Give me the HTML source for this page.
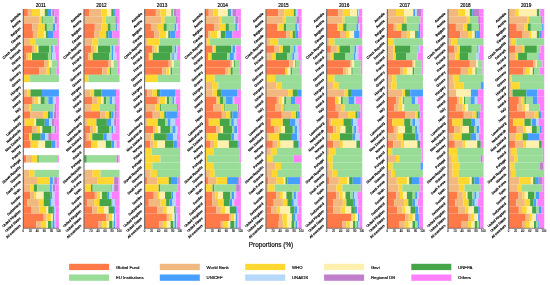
<!DOCTYPE html>
<html><head><meta charset="utf-8"><title>Proportions</title>
<style>html,body{margin:0;padding:0;background:#fff}svg{display:block}text{font-family:"Liberation Sans",sans-serif;fill:#000;stroke:#000;stroke-width:.18px}.yl{font-size:3.35px;text-anchor:end}.xt{font-size:2.8px;text-anchor:middle;stroke-width:.08px}.ti{font-size:4.7px;text-anchor:middle;stroke-width:.16px}.lg{font-size:4.3px;stroke-width:.15px}.xl{font-size:6.4px;text-anchor:middle;stroke-width:.15px}</style></head><body>
<svg width="550" height="285" viewBox="0 0 550 285">
<rect width="550" height="285" fill="#fff"/>
<g>
<text class="ti" x="40.75" y="6.5">2011</text>
<rect x="23.6" y="9" width="4.24" height="7.31" fill="#FF7A48"/><rect x="27.84" y="9" width="4.09" height="7.31" fill="#F1B87F"/><rect x="31.93" y="9" width="8.15" height="7.31" fill="#FFD731"/><rect x="40.09" y="9" width="4.69" height="7.31" fill="#FFF0AE"/><rect x="44.78" y="9" width="3.18" height="7.31" fill="#45A548"/><rect x="47.96" y="9" width="3.53" height="7.31" fill="#469FFF"/><rect x="51.49" y="9" width="0.71" height="7.31" fill="#B5D8F8"/><rect x="52.19" y="9" width="2.33" height="7.31" fill="#BF7FCB"/><rect x="54.52" y="9" width="4.38" height="7.31" fill="#FF80FF"/>
<text class="yl" transform="translate(20.2 13.15) rotate(-43)" y="1.05">Australia</text>
<rect x="23.6" y="16.31" width="15.53" height="7.31" fill="#F1B87F"/><rect x="39.13" y="16.31" width="2.68" height="7.31" fill="#FFD731"/><rect x="41.81" y="16.31" width="1.02" height="7.31" fill="#45A548"/><rect x="42.84" y="16.31" width="10.77" height="7.31" fill="#98DC98"/><rect x="53.6" y="16.31" width="1.06" height="7.31" fill="#B5D8F8"/><rect x="54.66" y="16.31" width="2.47" height="7.31" fill="#BF7FCB"/><rect x="57.13" y="16.31" width="1.76" height="7.31" fill="#FF80FF"/>
<text class="yl" transform="translate(20.2 20.46) rotate(-43)" y="1.05">Austria</text>
<rect x="23.6" y="23.62" width="8.82" height="7.31" fill="#FF7A48"/><rect x="32.42" y="23.62" width="5.65" height="7.31" fill="#F1B87F"/><rect x="38.07" y="23.62" width="6.71" height="7.31" fill="#FFD731"/><rect x="44.78" y="23.62" width="2.12" height="7.31" fill="#45A548"/><rect x="46.9" y="23.62" width="6" height="7.31" fill="#98DC98"/><rect x="52.9" y="23.62" width="2.12" height="7.31" fill="#469FFF"/><rect x="55.02" y="23.62" width="1.41" height="7.31" fill="#B5D8F8"/><rect x="56.43" y="23.62" width="2.47" height="7.31" fill="#FF80FF"/>
<text class="yl" transform="translate(20.2 27.77) rotate(-43)" y="1.05">Belgium</text>
<rect x="23.6" y="30.93" width="9.35" height="7.31" fill="#FF7A48"/><rect x="32.95" y="30.93" width="4.77" height="7.31" fill="#F1B87F"/><rect x="37.72" y="30.93" width="6.71" height="7.31" fill="#FFD731"/><rect x="44.43" y="30.93" width="1.41" height="7.31" fill="#FFF0AE"/><rect x="45.84" y="30.93" width="2.12" height="7.31" fill="#45A548"/><rect x="47.96" y="30.93" width="5.65" height="7.31" fill="#469FFF"/><rect x="53.6" y="30.93" width="5.29" height="7.31" fill="#FF80FF"/>
<text class="yl" transform="translate(20.2 35.09) rotate(-43)" y="1.05">Canada</text>
<rect x="23.6" y="38.24" width="6.53" height="7.31" fill="#F1B87F"/><rect x="30.13" y="38.24" width="5.12" height="7.31" fill="#FFD731"/><rect x="35.25" y="38.24" width="22.59" height="7.31" fill="#98DC98"/><rect x="57.84" y="38.24" width="1.06" height="7.31" fill="#FF80FF"/>
<text class="yl" transform="translate(20.2 42.39) rotate(-43)" y="1.05">Czech Republic</text>
<rect x="23.6" y="45.55" width="8.37" height="7.31" fill="#FF7A48"/><rect x="31.97" y="45.55" width="2.58" height="7.31" fill="#F1B87F"/><rect x="34.54" y="45.55" width="2.82" height="7.31" fill="#FFD731"/><rect x="37.37" y="45.55" width="1.06" height="7.31" fill="#FFF0AE"/><rect x="38.43" y="45.55" width="10.84" height="7.31" fill="#45A548"/><rect x="49.26" y="45.55" width="1.87" height="7.31" fill="#98DC98"/><rect x="51.13" y="45.55" width="1.76" height="7.31" fill="#469FFF"/><rect x="52.9" y="45.55" width="1.76" height="7.31" fill="#B5D8F8"/><rect x="54.66" y="45.55" width="4.24" height="7.31" fill="#FF80FF"/>
<text class="yl" transform="translate(20.2 49.7) rotate(-43)" y="1.05">Denmark</text>
<rect x="23.6" y="52.86" width="2.37" height="7.31" fill="#FF7A48"/><rect x="25.97" y="52.86" width="2.22" height="7.31" fill="#F1B87F"/><rect x="28.19" y="52.86" width="2.82" height="7.31" fill="#FFD731"/><rect x="31.01" y="52.86" width="0.95" height="7.31" fill="#FFF0AE"/><rect x="31.97" y="52.86" width="15.99" height="7.31" fill="#45A548"/><rect x="47.96" y="52.86" width="3.18" height="7.31" fill="#98DC98"/><rect x="51.13" y="52.86" width="1.06" height="7.31" fill="#469FFF"/><rect x="52.19" y="52.86" width="3.53" height="7.31" fill="#B5D8F8"/><rect x="55.72" y="52.86" width="3.18" height="7.31" fill="#FF80FF"/>
<text class="yl" transform="translate(20.2 57.02) rotate(-43)" y="1.05">Finland</text>
<rect x="23.6" y="60.17" width="20.47" height="7.31" fill="#FF7A48"/><rect x="44.07" y="60.17" width="3.88" height="7.31" fill="#F1B87F"/><rect x="47.96" y="60.17" width="1.27" height="7.31" fill="#FFD731"/><rect x="49.23" y="60.17" width="2.61" height="7.31" fill="#FFF0AE"/><rect x="51.84" y="60.17" width="5.29" height="7.31" fill="#98DC98"/><rect x="57.13" y="60.17" width="1.76" height="7.31" fill="#FF80FF"/>
<text class="yl" transform="translate(20.2 64.32) rotate(-43)" y="1.05">France</text>
<rect x="23.6" y="67.48" width="15.53" height="7.31" fill="#FF7A48"/><rect x="39.13" y="67.48" width="7.41" height="7.31" fill="#F1B87F"/><rect x="46.55" y="67.48" width="3.18" height="7.31" fill="#FFD731"/><rect x="49.72" y="67.48" width="1.06" height="7.31" fill="#45A548"/><rect x="50.78" y="67.48" width="5.65" height="7.31" fill="#98DC98"/><rect x="56.43" y="67.48" width="2.47" height="7.31" fill="#FF80FF"/>
<text class="yl" transform="translate(20.2 71.63) rotate(-43)" y="1.05">Germany</text>
<rect x="23.6" y="74.79" width="6.53" height="7.31" fill="#FFD731"/><rect x="30.13" y="74.79" width="28.77" height="7.31" fill="#98DC98"/>
<text class="yl" transform="translate(20.2 78.94) rotate(-43)" y="1.05">Greece</text>

<text class="yl" transform="translate(20.2 86.25) rotate(-43)" y="1.05">Hungary</text>
<rect x="23.6" y="89.41" width="3.88" height="7.31" fill="#F1B87F"/><rect x="27.48" y="89.41" width="3.04" height="7.31" fill="#FFD731"/><rect x="30.52" y="89.41" width="11.44" height="7.31" fill="#45A548"/><rect x="41.96" y="89.41" width="16.94" height="7.31" fill="#469FFF"/>
<text class="yl" transform="translate(20.2 93.56) rotate(-43)" y="1.05">Iceland</text>
<rect x="23.6" y="96.72" width="8.37" height="7.31" fill="#FF7A48"/><rect x="31.97" y="96.72" width="2.58" height="7.31" fill="#F1B87F"/><rect x="34.54" y="96.72" width="3.42" height="7.31" fill="#FFD731"/><rect x="37.97" y="96.72" width="2.75" height="7.31" fill="#FFF0AE"/><rect x="40.72" y="96.72" width="4.06" height="7.31" fill="#45A548"/><rect x="44.78" y="96.72" width="3.53" height="7.31" fill="#98DC98"/><rect x="48.31" y="96.72" width="4.59" height="7.31" fill="#469FFF"/><rect x="52.9" y="96.72" width="2.72" height="7.31" fill="#B5D8F8"/><rect x="55.62" y="96.72" width="3.28" height="7.31" fill="#FF80FF"/>
<text class="yl" transform="translate(20.2 100.88) rotate(-43)" y="1.05">Ireland</text>
<rect x="23.6" y="104.03" width="5.65" height="7.31" fill="#F1B87F"/><rect x="29.25" y="104.03" width="1.76" height="7.31" fill="#FFD731"/><rect x="31.01" y="104.03" width="22.77" height="7.31" fill="#98DC98"/><rect x="53.78" y="104.03" width="0.88" height="7.31" fill="#B5D8F8"/><rect x="54.66" y="104.03" width="1.41" height="7.31" fill="#BF7FCB"/><rect x="56.08" y="104.03" width="2.82" height="7.31" fill="#FF80FF"/>
<text class="yl" transform="translate(20.2 108.19) rotate(-43)" y="1.05">Italy</text>
<rect x="23.6" y="111.34" width="6.53" height="7.31" fill="#FF7A48"/><rect x="30.13" y="111.34" width="13.59" height="7.31" fill="#F1B87F"/><rect x="43.72" y="111.34" width="4.24" height="7.31" fill="#FFD731"/><rect x="47.96" y="111.34" width="2.12" height="7.31" fill="#45A548"/><rect x="50.08" y="111.34" width="2.82" height="7.31" fill="#469FFF"/><rect x="52.9" y="111.34" width="0.88" height="7.31" fill="#B5D8F8"/><rect x="53.78" y="111.34" width="2.65" height="7.31" fill="#BF7FCB"/><rect x="56.43" y="111.34" width="2.47" height="7.31" fill="#FF80FF"/>
<text class="yl" transform="translate(20.2 115.49) rotate(-43)" y="1.05">Japan</text>
<rect x="23.6" y="118.65" width="2.01" height="7.31" fill="#F1B87F"/><rect x="25.61" y="118.65" width="8.93" height="7.31" fill="#FFD731"/><rect x="34.54" y="118.65" width="1.59" height="7.31" fill="#FFF0AE"/><rect x="36.13" y="118.65" width="8.65" height="7.31" fill="#45A548"/><rect x="44.78" y="118.65" width="4.48" height="7.31" fill="#469FFF"/><rect x="49.26" y="118.65" width="2.58" height="7.31" fill="#B5D8F8"/><rect x="51.84" y="118.65" width="2.82" height="7.31" fill="#BF7FCB"/><rect x="54.66" y="118.65" width="4.24" height="7.31" fill="#FF80FF"/>
<text class="yl" transform="translate(20.2 122.8) rotate(-43)" y="1.05">Luxembourg</text>
<rect x="23.6" y="125.96" width="8.37" height="7.31" fill="#FF7A48"/><rect x="31.97" y="125.96" width="4.91" height="7.31" fill="#F1B87F"/><rect x="36.87" y="125.96" width="3.32" height="7.31" fill="#FFD731"/><rect x="40.19" y="125.96" width="2.12" height="7.31" fill="#FFF0AE"/><rect x="42.31" y="125.96" width="8.82" height="7.31" fill="#45A548"/><rect x="51.13" y="125.96" width="1.76" height="7.31" fill="#98DC98"/><rect x="52.9" y="125.96" width="1.76" height="7.31" fill="#B5D8F8"/><rect x="54.66" y="125.96" width="1.76" height="7.31" fill="#BF7FCB"/><rect x="56.43" y="125.96" width="2.47" height="7.31" fill="#FF80FF"/>
<text class="yl" transform="translate(20.2 130.11) rotate(-43)" y="1.05">Netherlands</text>
<rect x="23.6" y="133.27" width="5.65" height="7.31" fill="#FF7A48"/><rect x="29.25" y="133.27" width="2.72" height="7.31" fill="#FFD731"/><rect x="31.97" y="133.27" width="8.75" height="7.31" fill="#45A548"/><rect x="40.72" y="133.27" width="4.41" height="7.31" fill="#469FFF"/><rect x="45.13" y="133.27" width="3.18" height="7.31" fill="#B5D8F8"/><rect x="48.31" y="133.27" width="3.53" height="7.31" fill="#BF7FCB"/><rect x="51.84" y="133.27" width="7.06" height="7.31" fill="#FF80FF"/>
<text class="yl" transform="translate(20.2 137.42) rotate(-43)" y="1.05">New Zealand</text>
<rect x="23.6" y="140.58" width="7.06" height="7.31" fill="#FF7A48"/><rect x="30.66" y="140.58" width="7.66" height="7.31" fill="#FFD731"/><rect x="38.32" y="140.58" width="6.81" height="7.31" fill="#FFF0AE"/><rect x="45.13" y="140.58" width="6" height="7.31" fill="#45A548"/><rect x="51.13" y="140.58" width="4.48" height="7.31" fill="#469FFF"/><rect x="55.62" y="140.58" width="0.81" height="7.31" fill="#B5D8F8"/><rect x="56.43" y="140.58" width="2.47" height="7.31" fill="#FF80FF"/>
<text class="yl" transform="translate(20.2 144.73) rotate(-43)" y="1.05">Norway</text>

<text class="yl" transform="translate(20.2 152.04) rotate(-43)" y="1.05">Poland</text>
<rect x="23.6" y="155.2" width="2.82" height="7.31" fill="#FF7A48"/><rect x="26.42" y="155.2" width="5.54" height="7.31" fill="#F1B87F"/><rect x="31.97" y="155.2" width="5.4" height="7.31" fill="#FFD731"/><rect x="37.37" y="155.2" width="1.41" height="7.31" fill="#45A548"/><rect x="38.78" y="155.2" width="18.71" height="7.31" fill="#98DC98"/><rect x="57.49" y="155.2" width="0.71" height="7.31" fill="#BF7FCB"/><rect x="58.19" y="155.2" width="0.71" height="7.31" fill="#FF80FF"/>
<text class="yl" transform="translate(20.2 159.35) rotate(-43)" y="1.05">Portugal</text>

<text class="yl" transform="translate(20.2 166.66) rotate(-43)" y="1.05">Slovak Republic</text>
<rect x="23.6" y="169.82" width="5.65" height="7.31" fill="#F1B87F"/><rect x="29.25" y="169.82" width="5.29" height="7.31" fill="#FFD731"/><rect x="34.54" y="169.82" width="24.36" height="7.31" fill="#98DC98"/>
<text class="yl" transform="translate(20.2 173.97) rotate(-43)" y="1.05">Slovenia</text>
<rect x="23.6" y="177.13" width="1.06" height="7.31" fill="#FF7A48"/><rect x="24.66" y="177.13" width="12.36" height="7.31" fill="#F1B87F"/><rect x="37.01" y="177.13" width="13.06" height="7.31" fill="#FFD731"/><rect x="50.08" y="177.13" width="2.82" height="7.31" fill="#469FFF"/><rect x="52.9" y="177.13" width="1.27" height="7.31" fill="#B5D8F8"/><rect x="54.17" y="177.13" width="3.32" height="7.31" fill="#BF7FCB"/><rect x="57.49" y="177.13" width="1.41" height="7.31" fill="#FF80FF"/>
<text class="yl" transform="translate(20.2 181.28) rotate(-43)" y="1.05">South Korea</text>
<rect x="23.6" y="184.44" width="1.06" height="7.31" fill="#FF7A48"/><rect x="24.66" y="184.44" width="5.47" height="7.31" fill="#F1B87F"/><rect x="30.13" y="184.44" width="3.71" height="7.31" fill="#FFD731"/><rect x="33.84" y="184.44" width="3.53" height="7.31" fill="#45A548"/><rect x="37.37" y="184.44" width="12.71" height="7.31" fill="#98DC98"/><rect x="50.08" y="184.44" width="1.76" height="7.31" fill="#469FFF"/><rect x="51.84" y="184.44" width="1.06" height="7.31" fill="#B5D8F8"/><rect x="52.9" y="184.44" width="2.47" height="7.31" fill="#BF7FCB"/><rect x="55.37" y="184.44" width="3.53" height="7.31" fill="#FF80FF"/>
<text class="yl" transform="translate(20.2 188.59) rotate(-43)" y="1.05">Spain</text>
<rect x="23.6" y="191.75" width="6.53" height="7.31" fill="#FF7A48"/><rect x="30.13" y="191.75" width="4.06" height="7.31" fill="#F1B87F"/><rect x="34.19" y="191.75" width="2.33" height="7.31" fill="#FFD731"/><rect x="36.52" y="191.75" width="7.2" height="7.31" fill="#FFF0AE"/><rect x="43.72" y="191.75" width="7.06" height="7.31" fill="#45A548"/><rect x="50.78" y="191.75" width="1.41" height="7.31" fill="#469FFF"/><rect x="52.19" y="191.75" width="2.47" height="7.31" fill="#B5D8F8"/><rect x="54.66" y="191.75" width="4.24" height="7.31" fill="#FF80FF"/>
<text class="yl" transform="translate(20.2 195.91) rotate(-43)" y="1.05">Sweden</text>
<rect x="23.6" y="199.06" width="3.53" height="7.31" fill="#FF7A48"/><rect x="27.13" y="199.06" width="11.65" height="7.31" fill="#F1B87F"/><rect x="38.78" y="199.06" width="4.94" height="7.31" fill="#FFD731"/><rect x="43.72" y="199.06" width="6.35" height="7.31" fill="#45A548"/><rect x="50.08" y="199.06" width="1.41" height="7.31" fill="#469FFF"/><rect x="51.49" y="199.06" width="3.18" height="7.31" fill="#B5D8F8"/><rect x="54.66" y="199.06" width="4.24" height="7.31" fill="#FF80FF"/>
<text class="yl" transform="translate(20.2 203.22) rotate(-43)" y="1.05">Switzerland</text>
<rect x="23.6" y="206.37" width="7.41" height="7.31" fill="#FF7A48"/><rect x="31.01" y="206.37" width="8.12" height="7.31" fill="#F1B87F"/><rect x="39.13" y="206.37" width="7.41" height="7.31" fill="#FFD731"/><rect x="46.55" y="206.37" width="1.76" height="7.31" fill="#FFF0AE"/><rect x="48.31" y="206.37" width="4.59" height="7.31" fill="#45A548"/><rect x="52.9" y="206.37" width="1.76" height="7.31" fill="#469FFF"/><rect x="54.66" y="206.37" width="0.88" height="7.31" fill="#B5D8F8"/><rect x="55.55" y="206.37" width="3.35" height="7.31" fill="#FF80FF"/>
<text class="yl" transform="translate(20.2 210.52) rotate(-43)" y="1.05">United Kingdom</text>
<rect x="23.6" y="213.68" width="20.12" height="7.31" fill="#FF7A48"/><rect x="43.72" y="213.68" width="2.82" height="7.31" fill="#F1B87F"/><rect x="46.55" y="213.68" width="4.59" height="7.31" fill="#FFD731"/><rect x="51.13" y="213.68" width="1.76" height="7.31" fill="#FFF0AE"/><rect x="52.9" y="213.68" width="1.27" height="7.31" fill="#469FFF"/><rect x="54.17" y="213.68" width="1.2" height="7.31" fill="#B5D8F8"/><rect x="55.37" y="213.68" width="3.53" height="7.31" fill="#FF80FF"/>
<text class="yl" transform="translate(20.2 217.83) rotate(-43)" y="1.05">United States</text>
<rect x="23.6" y="220.99" width="12.71" height="7.31" fill="#FF7A48"/><rect x="36.31" y="220.99" width="4.59" height="7.31" fill="#F1B87F"/><rect x="40.9" y="220.99" width="5.08" height="7.31" fill="#FFD731"/><rect x="45.98" y="220.99" width="1.98" height="7.31" fill="#FFF0AE"/><rect x="47.96" y="220.99" width="3.53" height="7.31" fill="#45A548"/><rect x="51.49" y="220.99" width="1.06" height="7.31" fill="#98DC98"/><rect x="52.55" y="220.99" width="2.12" height="7.31" fill="#469FFF"/><rect x="54.66" y="220.99" width="0.71" height="7.31" fill="#B5D8F8"/><rect x="55.37" y="220.99" width="3.53" height="7.31" fill="#FF80FF"/>
<text class="yl" transform="translate(20.2 225.14) rotate(-43)" y="1.05">All members</text>
<path d="M23.3 9V228.55" fill="none" stroke="#222" stroke-width="0.7"/><path d="M22.95 228.3H58.9" fill="none" stroke="#223" stroke-width="0.5"/>
<text class="xt" x="23.2" y="232.4">0</text><text class="xt" x="30.26" y="232.4">20</text><text class="xt" x="37.32" y="232.4">40</text><text class="xt" x="44.38" y="232.4">60</text><text class="xt" x="51.44" y="232.4">80</text><text class="xt" x="58.5" y="232.4">100</text>
<path d="M23.6 228.3v1.3M30.66 228.3v1.3M37.72 228.3v1.3M44.78 228.3v1.3M51.84 228.3v1.3M58.9 228.3v1.3M23.6 12.65h-1.3M23.6 19.96h-1.3M23.6 27.27h-1.3M23.6 34.58h-1.3M23.6 41.89h-1.3M23.6 49.2h-1.3M23.6 56.52h-1.3M23.6 63.82h-1.3M23.6 71.13h-1.3M23.6 78.44h-1.3M23.6 85.75h-1.3M23.6 93.06h-1.3M23.6 100.38h-1.3M23.6 107.68h-1.3M23.6 114.99h-1.3M23.6 122.3h-1.3M23.6 129.62h-1.3M23.6 136.93h-1.3M23.6 144.23h-1.3M23.6 151.54h-1.3M23.6 158.85h-1.3M23.6 166.16h-1.3M23.6 173.47h-1.3M23.6 180.78h-1.3M23.6 188.09h-1.3M23.6 195.41h-1.3M23.6 202.72h-1.3M23.6 210.02h-1.3M23.6 217.33h-1.3M23.6 224.64h-1.3" stroke="#222" stroke-width="0.25" opacity="0.6"/>
</g>
<g>
<text class="ti" x="101.42" y="6.5">2012</text>
<rect x="84.27" y="9" width="4.94" height="7.31" fill="#FF7A48"/><rect x="89.21" y="9" width="12" height="7.31" fill="#F1B87F"/><rect x="101.21" y="9" width="6" height="7.31" fill="#FFD731"/><rect x="107.22" y="9" width="4.13" height="7.31" fill="#FFF0AE"/><rect x="111.35" y="9" width="1.73" height="7.31" fill="#45A548"/><rect x="113.07" y="9" width="1.91" height="7.31" fill="#469FFF"/><rect x="114.98" y="9" width="4.59" height="7.31" fill="#FF80FF"/>
<text class="yl" transform="translate(80.87 13.15) rotate(-43)" y="1.05">Australia</text>
<rect x="84.27" y="16.31" width="18" height="7.31" fill="#F1B87F"/><rect x="102.27" y="16.31" width="3.18" height="7.31" fill="#FFD731"/><rect x="105.45" y="16.31" width="9.88" height="7.31" fill="#98DC98"/><rect x="115.33" y="16.31" width="1.66" height="7.31" fill="#BF7FCB"/><rect x="116.99" y="16.31" width="2.58" height="7.31" fill="#FF80FF"/>
<text class="yl" transform="translate(80.87 20.46) rotate(-43)" y="1.05">Austria</text>
<rect x="84.27" y="23.62" width="10.59" height="7.31" fill="#FF7A48"/><rect x="94.86" y="23.62" width="6.35" height="7.31" fill="#F1B87F"/><rect x="101.21" y="23.62" width="6.53" height="7.31" fill="#FFD731"/><rect x="107.74" y="23.62" width="3" height="7.31" fill="#45A548"/><rect x="110.75" y="23.62" width="5.29" height="7.31" fill="#98DC98"/><rect x="116.04" y="23.62" width="1.41" height="7.31" fill="#469FFF"/><rect x="117.45" y="23.62" width="0.88" height="7.31" fill="#B5D8F8"/><rect x="118.33" y="23.62" width="1.24" height="7.31" fill="#FF80FF"/>
<text class="yl" transform="translate(80.87 27.77) rotate(-43)" y="1.05">Belgium</text>
<rect x="84.27" y="30.93" width="9.88" height="7.31" fill="#FF7A48"/><rect x="94.15" y="30.93" width="4.84" height="7.31" fill="#F1B87F"/><rect x="98.99" y="30.93" width="7.17" height="7.31" fill="#FFD731"/><rect x="106.16" y="30.93" width="2.12" height="7.31" fill="#45A548"/><rect x="108.27" y="30.93" width="4.09" height="7.31" fill="#469FFF"/><rect x="112.37" y="30.93" width="7.2" height="7.31" fill="#FF80FF"/>
<text class="yl" transform="translate(80.87 35.09) rotate(-43)" y="1.05">Canada</text>
<rect x="84.27" y="38.24" width="8.01" height="7.31" fill="#F1B87F"/><rect x="92.28" y="38.24" width="6" height="7.31" fill="#FFD731"/><rect x="98.28" y="38.24" width="20.23" height="7.31" fill="#98DC98"/><rect x="118.51" y="38.24" width="1.06" height="7.31" fill="#FF80FF"/>
<text class="yl" transform="translate(80.87 42.39) rotate(-43)" y="1.05">Czech Republic</text>
<rect x="84.27" y="45.55" width="7.06" height="7.31" fill="#FF7A48"/><rect x="91.33" y="45.55" width="2.82" height="7.31" fill="#F1B87F"/><rect x="94.15" y="45.55" width="2.65" height="7.31" fill="#FFD731"/><rect x="96.8" y="45.55" width="1.09" height="7.31" fill="#FFF0AE"/><rect x="97.9" y="45.55" width="12.14" height="7.31" fill="#45A548"/><rect x="110.04" y="45.55" width="1.76" height="7.31" fill="#98DC98"/><rect x="111.8" y="45.55" width="1.76" height="7.31" fill="#469FFF"/><rect x="113.57" y="45.55" width="1.41" height="7.31" fill="#B5D8F8"/><rect x="114.98" y="45.55" width="4.59" height="7.31" fill="#FF80FF"/>
<text class="yl" transform="translate(80.87 49.7) rotate(-43)" y="1.05">Denmark</text>
<rect x="84.27" y="52.86" width="3.88" height="7.31" fill="#FF7A48"/><rect x="88.15" y="52.86" width="1.94" height="7.31" fill="#F1B87F"/><rect x="90.09" y="52.86" width="2.65" height="7.31" fill="#FFD731"/><rect x="92.74" y="52.86" width="16.45" height="7.31" fill="#45A548"/><rect x="109.19" y="52.86" width="2.61" height="7.31" fill="#98DC98"/><rect x="111.8" y="52.86" width="1.41" height="7.31" fill="#469FFF"/><rect x="113.22" y="52.86" width="3.18" height="7.31" fill="#B5D8F8"/><rect x="116.39" y="52.86" width="3.18" height="7.31" fill="#FF80FF"/>
<text class="yl" transform="translate(80.87 57.02) rotate(-43)" y="1.05">Finland</text>
<rect x="84.27" y="60.17" width="24.36" height="7.31" fill="#FF7A48"/><rect x="108.63" y="60.17" width="2.82" height="7.31" fill="#F1B87F"/><rect x="111.45" y="60.17" width="2.12" height="7.31" fill="#FFF0AE"/><rect x="113.57" y="60.17" width="4.59" height="7.31" fill="#98DC98"/><rect x="118.16" y="60.17" width="1.41" height="7.31" fill="#FF80FF"/>
<text class="yl" transform="translate(80.87 64.32) rotate(-43)" y="1.05">France</text>
<rect x="84.27" y="67.48" width="18" height="7.31" fill="#FF7A48"/><rect x="102.27" y="67.48" width="5.12" height="7.31" fill="#F1B87F"/><rect x="107.39" y="67.48" width="2.65" height="7.31" fill="#FFD731"/><rect x="110.04" y="67.48" width="1.41" height="7.31" fill="#45A548"/><rect x="111.45" y="67.48" width="6.35" height="7.31" fill="#98DC98"/><rect x="117.81" y="67.48" width="1.76" height="7.31" fill="#FF80FF"/>
<text class="yl" transform="translate(80.87 71.63) rotate(-43)" y="1.05">Germany</text>
<rect x="84.27" y="74.79" width="4.24" height="7.31" fill="#FFD731"/><rect x="88.51" y="74.79" width="31.06" height="7.31" fill="#98DC98"/>
<text class="yl" transform="translate(80.87 78.94) rotate(-43)" y="1.05">Greece</text>

<text class="yl" transform="translate(80.87 86.25) rotate(-43)" y="1.05">Hungary</text>
<rect x="84.27" y="89.41" width="6.18" height="7.31" fill="#F1B87F"/><rect x="90.45" y="89.41" width="3.71" height="7.31" fill="#FFD731"/><rect x="94.15" y="89.41" width="7.24" height="7.31" fill="#45A548"/><rect x="101.39" y="89.41" width="14.65" height="7.31" fill="#469FFF"/><rect x="116.04" y="89.41" width="3.53" height="7.31" fill="#FF80FF"/>
<text class="yl" transform="translate(80.87 93.56) rotate(-43)" y="1.05">Iceland</text>
<rect x="84.27" y="96.72" width="8.01" height="7.31" fill="#FF7A48"/><rect x="92.28" y="96.72" width="5.4" height="7.31" fill="#F1B87F"/><rect x="97.68" y="96.72" width="3.71" height="7.31" fill="#FFD731"/><rect x="101.39" y="96.72" width="2.29" height="7.31" fill="#FFF0AE"/><rect x="103.69" y="96.72" width="2.47" height="7.31" fill="#45A548"/><rect x="106.16" y="96.72" width="3.39" height="7.31" fill="#98DC98"/><rect x="109.54" y="96.72" width="2.61" height="7.31" fill="#469FFF"/><rect x="112.16" y="96.72" width="2.82" height="7.31" fill="#B5D8F8"/><rect x="114.98" y="96.72" width="4.59" height="7.31" fill="#FF80FF"/>
<text class="yl" transform="translate(80.87 100.88) rotate(-43)" y="1.05">Ireland</text>
<rect x="84.27" y="104.03" width="6.71" height="7.31" fill="#F1B87F"/><rect x="90.98" y="104.03" width="8.47" height="7.31" fill="#FFD731"/><rect x="99.45" y="104.03" width="15.53" height="7.31" fill="#98DC98"/><rect x="114.98" y="104.03" width="1.76" height="7.31" fill="#BF7FCB"/><rect x="116.75" y="104.03" width="2.82" height="7.31" fill="#FF80FF"/>
<text class="yl" transform="translate(80.87 108.19) rotate(-43)" y="1.05">Italy</text>
<rect x="84.27" y="111.34" width="15.88" height="7.31" fill="#FF7A48"/><rect x="100.16" y="111.34" width="4.94" height="7.31" fill="#F1B87F"/><rect x="105.1" y="111.34" width="4.09" height="7.31" fill="#FFD731"/><rect x="109.19" y="111.34" width="2.26" height="7.31" fill="#45A548"/><rect x="111.45" y="111.34" width="2.29" height="7.31" fill="#469FFF"/><rect x="113.75" y="111.34" width="0.88" height="7.31" fill="#B5D8F8"/><rect x="114.63" y="111.34" width="2.12" height="7.31" fill="#BF7FCB"/><rect x="116.75" y="111.34" width="2.82" height="7.31" fill="#FF80FF"/>
<text class="yl" transform="translate(80.87 115.49) rotate(-43)" y="1.05">Japan</text>
<rect x="84.27" y="118.65" width="3.53" height="7.31" fill="#F1B87F"/><rect x="87.8" y="118.65" width="8.65" height="7.31" fill="#FFD731"/><rect x="96.45" y="118.65" width="10.41" height="7.31" fill="#45A548"/><rect x="106.86" y="118.65" width="4.59" height="7.31" fill="#469FFF"/><rect x="111.45" y="118.65" width="2.65" height="7.31" fill="#B5D8F8"/><rect x="114.1" y="118.65" width="2.29" height="7.31" fill="#BF7FCB"/><rect x="116.39" y="118.65" width="3.18" height="7.31" fill="#FF80FF"/>
<text class="yl" transform="translate(80.87 122.8) rotate(-43)" y="1.05">Luxembourg</text>
<rect x="84.27" y="125.96" width="6.18" height="7.31" fill="#FF7A48"/><rect x="90.45" y="125.96" width="2.65" height="7.31" fill="#F1B87F"/><rect x="93.1" y="125.96" width="2.82" height="7.31" fill="#FFD731"/><rect x="95.92" y="125.96" width="1.76" height="7.31" fill="#FFF0AE"/><rect x="97.68" y="125.96" width="11.86" height="7.31" fill="#45A548"/><rect x="109.54" y="125.96" width="1.91" height="7.31" fill="#98DC98"/><rect x="111.45" y="125.96" width="1.76" height="7.31" fill="#469FFF"/><rect x="113.22" y="125.96" width="2.12" height="7.31" fill="#B5D8F8"/><rect x="115.33" y="125.96" width="4.24" height="7.31" fill="#FF80FF"/>
<text class="yl" transform="translate(80.87 130.11) rotate(-43)" y="1.05">Netherlands</text>
<rect x="84.27" y="133.27" width="2.47" height="7.31" fill="#FF7A48"/><rect x="86.74" y="133.27" width="2.82" height="7.31" fill="#F1B87F"/><rect x="89.57" y="133.27" width="2.72" height="7.31" fill="#FFD731"/><rect x="92.28" y="133.27" width="10.91" height="7.31" fill="#45A548"/><rect x="103.19" y="133.27" width="3.67" height="7.31" fill="#469FFF"/><rect x="106.86" y="133.27" width="4.59" height="7.31" fill="#B5D8F8"/><rect x="111.45" y="133.27" width="8.12" height="7.31" fill="#FF80FF"/>
<text class="yl" transform="translate(80.87 137.42) rotate(-43)" y="1.05">New Zealand</text>
<rect x="84.27" y="140.58" width="6.71" height="7.31" fill="#FF7A48"/><rect x="90.98" y="140.58" width="6.71" height="7.31" fill="#FFD731"/><rect x="97.68" y="140.58" width="8.12" height="7.31" fill="#FFF0AE"/><rect x="105.8" y="140.58" width="5.65" height="7.31" fill="#45A548"/><rect x="111.45" y="140.58" width="2.65" height="7.31" fill="#469FFF"/><rect x="114.1" y="140.58" width="2.29" height="7.31" fill="#B5D8F8"/><rect x="116.39" y="140.58" width="3.18" height="7.31" fill="#FF80FF"/>
<text class="yl" transform="translate(80.87 144.73) rotate(-43)" y="1.05">Norway</text>

<text class="yl" transform="translate(80.87 152.04) rotate(-43)" y="1.05">Poland</text>
<rect x="84.27" y="155.2" width="2.47" height="7.31" fill="#45A548"/><rect x="86.74" y="155.2" width="30" height="7.31" fill="#98DC98"/><rect x="116.75" y="155.2" width="1.76" height="7.31" fill="#BF7FCB"/><rect x="118.51" y="155.2" width="1.06" height="7.31" fill="#FF80FF"/>
<text class="yl" transform="translate(80.87 159.35) rotate(-43)" y="1.05">Portugal</text>

<text class="yl" transform="translate(80.87 166.66) rotate(-43)" y="1.05">Slovak Republic</text>
<rect x="84.27" y="169.82" width="8.01" height="7.31" fill="#F1B87F"/><rect x="92.28" y="169.82" width="8.22" height="7.31" fill="#FFD731"/><rect x="100.51" y="169.82" width="19.06" height="7.31" fill="#98DC98"/>
<text class="yl" transform="translate(80.87 173.97) rotate(-43)" y="1.05">Slovenia</text>
<rect x="84.27" y="177.13" width="13.41" height="7.31" fill="#F1B87F"/><rect x="97.68" y="177.13" width="15.53" height="7.31" fill="#FFD731"/><rect x="113.22" y="177.13" width="0.88" height="7.31" fill="#B5D8F8"/><rect x="114.1" y="177.13" width="4.41" height="7.31" fill="#BF7FCB"/><rect x="118.51" y="177.13" width="1.06" height="7.31" fill="#FF80FF"/>
<text class="yl" transform="translate(80.87 181.28) rotate(-43)" y="1.05">South Korea</text>
<rect x="84.27" y="184.44" width="1.62" height="7.31" fill="#F1B87F"/><rect x="85.89" y="184.44" width="5.08" height="7.31" fill="#FFD731"/><rect x="90.98" y="184.44" width="1.76" height="7.31" fill="#45A548"/><rect x="92.74" y="184.44" width="18.71" height="7.31" fill="#98DC98"/><rect x="111.45" y="184.44" width="0.71" height="7.31" fill="#469FFF"/><rect x="112.16" y="184.44" width="1.94" height="7.31" fill="#B5D8F8"/><rect x="114.1" y="184.44" width="4.06" height="7.31" fill="#BF7FCB"/><rect x="118.16" y="184.44" width="1.41" height="7.31" fill="#FF80FF"/>
<text class="yl" transform="translate(80.87 188.59) rotate(-43)" y="1.05">Spain</text>
<rect x="84.27" y="191.75" width="10.59" height="7.31" fill="#FF7A48"/><rect x="94.86" y="191.75" width="2.82" height="7.31" fill="#F1B87F"/><rect x="97.68" y="191.75" width="2.82" height="7.31" fill="#FFD731"/><rect x="100.51" y="191.75" width="1.41" height="7.31" fill="#FFF0AE"/><rect x="101.92" y="191.75" width="5.82" height="7.31" fill="#45A548"/><rect x="107.74" y="191.75" width="1.8" height="7.31" fill="#469FFF"/><rect x="109.54" y="191.75" width="2.26" height="7.31" fill="#B5D8F8"/><rect x="111.8" y="191.75" width="7.77" height="7.31" fill="#FF80FF"/>
<text class="yl" transform="translate(80.87 195.91) rotate(-43)" y="1.05">Sweden</text>
<rect x="84.27" y="199.06" width="3.18" height="7.31" fill="#FF7A48"/><rect x="87.45" y="199.06" width="6.71" height="7.31" fill="#F1B87F"/><rect x="94.15" y="199.06" width="5.29" height="7.31" fill="#FFD731"/><rect x="99.45" y="199.06" width="12" height="7.31" fill="#45A548"/><rect x="111.45" y="199.06" width="1.06" height="7.31" fill="#469FFF"/><rect x="112.51" y="199.06" width="2.47" height="7.31" fill="#B5D8F8"/><rect x="114.98" y="199.06" width="4.59" height="7.31" fill="#FF80FF"/>
<text class="yl" transform="translate(80.87 203.22) rotate(-43)" y="1.05">Switzerland</text>
<rect x="84.27" y="206.37" width="8.01" height="7.31" fill="#FF7A48"/><rect x="92.28" y="206.37" width="4.91" height="7.31" fill="#F1B87F"/><rect x="97.19" y="206.37" width="6.85" height="7.31" fill="#FFD731"/><rect x="104.04" y="206.37" width="4.59" height="7.31" fill="#FFF0AE"/><rect x="108.63" y="206.37" width="5.47" height="7.31" fill="#45A548"/><rect x="114.1" y="206.37" width="1.24" height="7.31" fill="#469FFF"/><rect x="115.33" y="206.37" width="4.24" height="7.31" fill="#FF80FF"/>
<text class="yl" transform="translate(80.87 210.52) rotate(-43)" y="1.05">United Kingdom</text>
<rect x="84.27" y="213.68" width="21.89" height="7.31" fill="#FF7A48"/><rect x="106.16" y="213.68" width="3.04" height="7.31" fill="#F1B87F"/><rect x="109.19" y="213.68" width="2.97" height="7.31" fill="#FFD731"/><rect x="112.16" y="213.68" width="1.94" height="7.31" fill="#FFF0AE"/><rect x="114.1" y="213.68" width="1.24" height="7.31" fill="#469FFF"/><rect x="115.33" y="213.68" width="0.88" height="7.31" fill="#B5D8F8"/><rect x="116.22" y="213.68" width="3.35" height="7.31" fill="#FF80FF"/>
<text class="yl" transform="translate(80.87 217.83) rotate(-43)" y="1.05">United States</text>
<rect x="84.27" y="220.99" width="14.37" height="7.31" fill="#FF7A48"/><rect x="98.64" y="220.99" width="3.64" height="7.31" fill="#F1B87F"/><rect x="102.27" y="220.99" width="4.59" height="7.31" fill="#FFD731"/><rect x="106.86" y="220.99" width="2.33" height="7.31" fill="#FFF0AE"/><rect x="109.19" y="220.99" width="3.32" height="7.31" fill="#45A548"/><rect x="112.51" y="220.99" width="1.24" height="7.31" fill="#98DC98"/><rect x="113.75" y="220.99" width="1.59" height="7.31" fill="#469FFF"/><rect x="115.33" y="220.99" width="0.95" height="7.31" fill="#B5D8F8"/><rect x="116.29" y="220.99" width="3.28" height="7.31" fill="#FF80FF"/>
<text class="yl" transform="translate(80.87 225.14) rotate(-43)" y="1.05">All members</text>
<path d="M83.97 9V228.55" fill="none" stroke="#222" stroke-width="0.7"/><path d="M83.62 228.3H119.57" fill="none" stroke="#223" stroke-width="0.5"/>
<text class="xt" x="83.87" y="232.4">0</text><text class="xt" x="90.93" y="232.4">20</text><text class="xt" x="97.99" y="232.4">40</text><text class="xt" x="105.05" y="232.4">60</text><text class="xt" x="112.11" y="232.4">80</text><text class="xt" x="119.17" y="232.4">100</text>
<path d="M84.27 228.3v1.3M91.33 228.3v1.3M98.39 228.3v1.3M105.45 228.3v1.3M112.51 228.3v1.3M119.57 228.3v1.3M84.27 12.65h-1.3M84.27 19.96h-1.3M84.27 27.27h-1.3M84.27 34.58h-1.3M84.27 41.89h-1.3M84.27 49.2h-1.3M84.27 56.52h-1.3M84.27 63.82h-1.3M84.27 71.13h-1.3M84.27 78.44h-1.3M84.27 85.75h-1.3M84.27 93.06h-1.3M84.27 100.38h-1.3M84.27 107.68h-1.3M84.27 114.99h-1.3M84.27 122.3h-1.3M84.27 129.62h-1.3M84.27 136.93h-1.3M84.27 144.23h-1.3M84.27 151.54h-1.3M84.27 158.85h-1.3M84.27 166.16h-1.3M84.27 173.47h-1.3M84.27 180.78h-1.3M84.27 188.09h-1.3M84.27 195.41h-1.3M84.27 202.72h-1.3M84.27 210.02h-1.3M84.27 217.33h-1.3M84.27 224.64h-1.3" stroke="#222" stroke-width="0.25" opacity="0.6"/>
</g>
<g>
<text class="ti" x="162.09" y="6.5">2013</text>
<rect x="144.94" y="9" width="10.94" height="7.31" fill="#FF7A48"/><rect x="155.88" y="9" width="4.59" height="7.31" fill="#F1B87F"/><rect x="160.47" y="9" width="6" height="7.31" fill="#FFD731"/><rect x="166.47" y="9" width="4.94" height="7.31" fill="#FFF0AE"/><rect x="171.41" y="9" width="1.41" height="7.31" fill="#45A548"/><rect x="172.83" y="9" width="1.24" height="7.31" fill="#B5D8F8"/><rect x="174.06" y="9" width="2.65" height="7.31" fill="#BF7FCB"/><rect x="176.71" y="9" width="3.53" height="7.31" fill="#FF80FF"/>
<text class="yl" transform="translate(141.54 13.15) rotate(-43)" y="1.05">Australia</text>
<rect x="144.94" y="16.31" width="16.59" height="7.31" fill="#F1B87F"/><rect x="161.53" y="16.31" width="3.18" height="7.31" fill="#FFD731"/><rect x="164.71" y="16.31" width="11.3" height="7.31" fill="#98DC98"/><rect x="176" y="16.31" width="1.76" height="7.31" fill="#BF7FCB"/><rect x="177.77" y="16.31" width="2.47" height="7.31" fill="#FF80FF"/>
<text class="yl" transform="translate(141.54 20.46) rotate(-43)" y="1.05">Austria</text>
<rect x="144.94" y="23.62" width="6" height="7.31" fill="#FF7A48"/><rect x="150.94" y="23.62" width="6.92" height="7.31" fill="#F1B87F"/><rect x="157.86" y="23.62" width="5.79" height="7.31" fill="#FFD731"/><rect x="163.65" y="23.62" width="3.18" height="7.31" fill="#45A548"/><rect x="166.83" y="23.62" width="7.77" height="7.31" fill="#98DC98"/><rect x="174.59" y="23.62" width="1.41" height="7.31" fill="#469FFF"/><rect x="176" y="23.62" width="1.76" height="7.31" fill="#B5D8F8"/><rect x="177.77" y="23.62" width="2.47" height="7.31" fill="#FF80FF"/>
<text class="yl" transform="translate(141.54 27.77) rotate(-43)" y="1.05">Belgium</text>
<rect x="144.94" y="30.93" width="9.53" height="7.31" fill="#FF7A48"/><rect x="154.47" y="30.93" width="4.84" height="7.31" fill="#F1B87F"/><rect x="159.31" y="30.93" width="6.81" height="7.31" fill="#FFD731"/><rect x="166.12" y="30.93" width="2.12" height="7.31" fill="#FFF0AE"/><rect x="168.24" y="30.93" width="1.98" height="7.31" fill="#45A548"/><rect x="170.21" y="30.93" width="4.91" height="7.31" fill="#469FFF"/><rect x="175.12" y="30.93" width="5.12" height="7.31" fill="#FF80FF"/>
<text class="yl" transform="translate(141.54 35.09) rotate(-43)" y="1.05">Canada</text>
<rect x="144.94" y="38.24" width="2.82" height="7.31" fill="#F1B87F"/><rect x="147.76" y="38.24" width="11.9" height="7.31" fill="#FFD731"/><rect x="159.66" y="38.24" width="20.58" height="7.31" fill="#98DC98"/>
<text class="yl" transform="translate(141.54 42.39) rotate(-43)" y="1.05">Czech Republic</text>
<rect x="144.94" y="45.55" width="7.41" height="7.31" fill="#FF7A48"/><rect x="152.35" y="45.55" width="2.12" height="7.31" fill="#F1B87F"/><rect x="154.47" y="45.55" width="2.47" height="7.31" fill="#FFD731"/><rect x="156.94" y="45.55" width="1.76" height="7.31" fill="#FFF0AE"/><rect x="158.71" y="45.55" width="13.77" height="7.31" fill="#45A548"/><rect x="172.47" y="45.55" width="2.12" height="7.31" fill="#98DC98"/><rect x="174.59" y="45.55" width="1.41" height="7.31" fill="#469FFF"/><rect x="176" y="45.55" width="1.24" height="7.31" fill="#B5D8F8"/><rect x="177.24" y="45.55" width="3" height="7.31" fill="#FF80FF"/>
<text class="yl" transform="translate(141.54 49.7) rotate(-43)" y="1.05">Denmark</text>
<rect x="144.94" y="52.86" width="3.88" height="7.31" fill="#FF7A48"/><rect x="148.82" y="52.86" width="3.88" height="7.31" fill="#FFD731"/><rect x="152.71" y="52.86" width="17.51" height="7.31" fill="#45A548"/><rect x="170.21" y="52.86" width="2.26" height="7.31" fill="#98DC98"/><rect x="172.47" y="52.86" width="1.41" height="7.31" fill="#469FFF"/><rect x="173.89" y="52.86" width="3.07" height="7.31" fill="#B5D8F8"/><rect x="176.96" y="52.86" width="3.28" height="7.31" fill="#FF80FF"/>
<text class="yl" transform="translate(141.54 57.02) rotate(-43)" y="1.05">Finland</text>
<rect x="144.94" y="60.17" width="23.83" height="7.31" fill="#FF7A48"/><rect x="168.77" y="60.17" width="2.19" height="7.31" fill="#F1B87F"/><rect x="170.96" y="60.17" width="1.16" height="7.31" fill="#FFD731"/><rect x="172.12" y="60.17" width="1.76" height="7.31" fill="#FFF0AE"/><rect x="173.89" y="60.17" width="5.29" height="7.31" fill="#98DC98"/><rect x="179.18" y="60.17" width="1.06" height="7.31" fill="#FF80FF"/>
<text class="yl" transform="translate(141.54 64.32) rotate(-43)" y="1.05">France</text>
<rect x="144.94" y="67.48" width="17.47" height="7.31" fill="#FF7A48"/><rect x="162.41" y="67.48" width="4.06" height="7.31" fill="#F1B87F"/><rect x="166.47" y="67.48" width="2.65" height="7.31" fill="#FFD731"/><rect x="169.12" y="67.48" width="1.48" height="7.31" fill="#FFF0AE"/><rect x="170.6" y="67.48" width="1.52" height="7.31" fill="#45A548"/><rect x="172.12" y="67.48" width="7.06" height="7.31" fill="#98DC98"/><rect x="179.18" y="67.48" width="1.06" height="7.31" fill="#FF80FF"/>
<text class="yl" transform="translate(141.54 71.63) rotate(-43)" y="1.05">Germany</text>
<rect x="144.94" y="74.79" width="12.53" height="7.31" fill="#FFD731"/><rect x="157.47" y="74.79" width="22.77" height="7.31" fill="#98DC98"/>
<text class="yl" transform="translate(141.54 78.94) rotate(-43)" y="1.05">Greece</text>

<text class="yl" transform="translate(141.54 86.25) rotate(-43)" y="1.05">Hungary</text>
<rect x="144.94" y="89.41" width="2.37" height="7.31" fill="#FF7A48"/><rect x="147.31" y="89.41" width="5.05" height="7.31" fill="#F1B87F"/><rect x="152.35" y="89.41" width="4.59" height="7.31" fill="#FFD731"/><rect x="156.94" y="89.41" width="3.18" height="7.31" fill="#45A548"/><rect x="160.12" y="89.41" width="15.53" height="7.31" fill="#469FFF"/><rect x="175.65" y="89.41" width="4.59" height="7.31" fill="#FF80FF"/>
<text class="yl" transform="translate(141.54 93.56) rotate(-43)" y="1.05">Iceland</text>
<rect x="144.94" y="96.72" width="12" height="7.31" fill="#FF7A48"/><rect x="156.94" y="96.72" width="2.72" height="7.31" fill="#F1B87F"/><rect x="159.66" y="96.72" width="5.4" height="7.31" fill="#FFD731"/><rect x="165.06" y="96.72" width="1.76" height="7.31" fill="#FFF0AE"/><rect x="166.83" y="96.72" width="2.47" height="7.31" fill="#45A548"/><rect x="169.3" y="96.72" width="3.18" height="7.31" fill="#98DC98"/><rect x="172.47" y="96.72" width="1.76" height="7.31" fill="#469FFF"/><rect x="174.24" y="96.72" width="1.76" height="7.31" fill="#B5D8F8"/><rect x="176" y="96.72" width="4.24" height="7.31" fill="#FF80FF"/>
<text class="yl" transform="translate(141.54 100.88) rotate(-43)" y="1.05">Ireland</text>
<rect x="144.94" y="104.03" width="1.06" height="7.31" fill="#FF7A48"/><rect x="146" y="104.03" width="9.18" height="7.31" fill="#F1B87F"/><rect x="155.18" y="104.03" width="4.94" height="7.31" fill="#FFD731"/><rect x="160.12" y="104.03" width="0.88" height="7.31" fill="#45A548"/><rect x="161" y="104.03" width="15.96" height="7.31" fill="#98DC98"/><rect x="176.96" y="104.03" width="1.16" height="7.31" fill="#BF7FCB"/><rect x="178.12" y="104.03" width="2.12" height="7.31" fill="#FF80FF"/>
<text class="yl" transform="translate(141.54 108.19) rotate(-43)" y="1.05">Italy</text>
<rect x="144.94" y="111.34" width="7.77" height="7.31" fill="#FF7A48"/><rect x="152.71" y="111.34" width="7.41" height="7.31" fill="#F1B87F"/><rect x="160.12" y="111.34" width="4.09" height="7.31" fill="#FFD731"/><rect x="164.21" y="111.34" width="1.91" height="7.31" fill="#45A548"/><rect x="166.12" y="111.34" width="11.65" height="7.31" fill="#469FFF"/><rect x="177.77" y="111.34" width="2.47" height="7.31" fill="#FF80FF"/>
<text class="yl" transform="translate(141.54 115.49) rotate(-43)" y="1.05">Japan</text>
<rect x="144.94" y="118.65" width="2.01" height="7.31" fill="#F1B87F"/><rect x="146.95" y="118.65" width="10.91" height="7.31" fill="#FFD731"/><rect x="157.86" y="118.65" width="7.55" height="7.31" fill="#45A548"/><rect x="165.41" y="118.65" width="2.47" height="7.31" fill="#98DC98"/><rect x="167.88" y="118.65" width="2.72" height="7.31" fill="#469FFF"/><rect x="170.6" y="118.65" width="4.52" height="7.31" fill="#B5D8F8"/><rect x="175.12" y="118.65" width="5.12" height="7.31" fill="#FF80FF"/>
<text class="yl" transform="translate(141.54 122.8) rotate(-43)" y="1.05">Luxembourg</text>
<rect x="144.94" y="125.96" width="8.37" height="7.31" fill="#FF7A48"/><rect x="153.31" y="125.96" width="2.22" height="7.31" fill="#F1B87F"/><rect x="155.53" y="125.96" width="2.33" height="7.31" fill="#FFD731"/><rect x="157.86" y="125.96" width="2.61" height="7.31" fill="#FFF0AE"/><rect x="160.47" y="125.96" width="9.74" height="7.31" fill="#45A548"/><rect x="170.21" y="125.96" width="2.26" height="7.31" fill="#98DC98"/><rect x="172.47" y="125.96" width="3.18" height="7.31" fill="#469FFF"/><rect x="175.65" y="125.96" width="1.76" height="7.31" fill="#B5D8F8"/><rect x="177.42" y="125.96" width="2.82" height="7.31" fill="#FF80FF"/>
<text class="yl" transform="translate(141.54 130.11) rotate(-43)" y="1.05">Netherlands</text>
<rect x="144.94" y="133.27" width="6.53" height="7.31" fill="#F1B87F"/><rect x="151.47" y="133.27" width="2.65" height="7.31" fill="#FFD731"/><rect x="154.12" y="133.27" width="12.71" height="7.31" fill="#45A548"/><rect x="166.83" y="133.27" width="6.35" height="7.31" fill="#469FFF"/><rect x="173.18" y="133.27" width="3.78" height="7.31" fill="#B5D8F8"/><rect x="176.96" y="133.27" width="3.28" height="7.31" fill="#FF80FF"/>
<text class="yl" transform="translate(141.54 137.42) rotate(-43)" y="1.05">New Zealand</text>
<rect x="144.94" y="140.58" width="5.29" height="7.31" fill="#FF7A48"/><rect x="150.23" y="140.58" width="3.07" height="7.31" fill="#F1B87F"/><rect x="153.31" y="140.58" width="3.64" height="7.31" fill="#FFD731"/><rect x="156.94" y="140.58" width="8.12" height="7.31" fill="#FFF0AE"/><rect x="165.06" y="140.58" width="8.12" height="7.31" fill="#45A548"/><rect x="173.18" y="140.58" width="3.78" height="7.31" fill="#469FFF"/><rect x="176.96" y="140.58" width="3.28" height="7.31" fill="#FF80FF"/>
<text class="yl" transform="translate(141.54 144.73) rotate(-43)" y="1.05">Norway</text>
<rect x="144.94" y="147.89" width="6.53" height="7.31" fill="#FFD731"/><rect x="151.47" y="147.89" width="27.71" height="7.31" fill="#98DC98"/><rect x="179.18" y="147.89" width="1.06" height="7.31" fill="#FF80FF"/>
<text class="yl" transform="translate(141.54 152.04) rotate(-43)" y="1.05">Poland</text>
<rect x="144.94" y="155.2" width="15.53" height="7.31" fill="#FFD731"/><rect x="160.47" y="155.2" width="18.71" height="7.31" fill="#98DC98"/><rect x="179.18" y="155.2" width="1.06" height="7.31" fill="#FF80FF"/>
<text class="yl" transform="translate(141.54 159.35) rotate(-43)" y="1.05">Portugal</text>
<rect x="144.94" y="162.51" width="7.41" height="7.31" fill="#FFD731"/><rect x="152.35" y="162.51" width="27.89" height="7.31" fill="#98DC98"/>
<text class="yl" transform="translate(141.54 166.66) rotate(-43)" y="1.05">Slovak Republic</text>
<rect x="144.94" y="169.82" width="5.65" height="7.31" fill="#F1B87F"/><rect x="150.59" y="169.82" width="6.35" height="7.31" fill="#FFD731"/><rect x="156.94" y="169.82" width="23.3" height="7.31" fill="#98DC98"/>
<text class="yl" transform="translate(141.54 173.97) rotate(-43)" y="1.05">Slovenia</text>
<rect x="144.94" y="177.13" width="2.01" height="7.31" fill="#FF7A48"/><rect x="146.95" y="177.13" width="10.52" height="7.31" fill="#F1B87F"/><rect x="157.47" y="177.13" width="11.3" height="7.31" fill="#FFD731"/><rect x="168.77" y="177.13" width="2.19" height="7.31" fill="#45A548"/><rect x="170.96" y="177.13" width="6.46" height="7.31" fill="#469FFF"/><rect x="177.42" y="177.13" width="1.41" height="7.31" fill="#BF7FCB"/><rect x="178.83" y="177.13" width="1.41" height="7.31" fill="#FF80FF"/>
<text class="yl" transform="translate(141.54 181.28) rotate(-43)" y="1.05">South Korea</text>
<rect x="144.94" y="184.44" width="13.77" height="7.31" fill="#FFD731"/><rect x="158.71" y="184.44" width="1.76" height="7.31" fill="#45A548"/><rect x="160.47" y="184.44" width="17.3" height="7.31" fill="#98DC98"/><rect x="177.77" y="184.44" width="2.47" height="7.31" fill="#FF80FF"/>
<text class="yl" transform="translate(141.54 188.59) rotate(-43)" y="1.05">Spain</text>
<rect x="144.94" y="191.75" width="8.82" height="7.31" fill="#FF7A48"/><rect x="153.76" y="191.75" width="4.09" height="7.31" fill="#F1B87F"/><rect x="157.86" y="191.75" width="1.8" height="7.31" fill="#FFD731"/><rect x="159.66" y="191.75" width="5.4" height="7.31" fill="#FFF0AE"/><rect x="165.06" y="191.75" width="6.35" height="7.31" fill="#45A548"/><rect x="171.41" y="191.75" width="1.76" height="7.31" fill="#469FFF"/><rect x="173.18" y="191.75" width="2.47" height="7.31" fill="#B5D8F8"/><rect x="175.65" y="191.75" width="4.59" height="7.31" fill="#FF80FF"/>
<text class="yl" transform="translate(141.54 195.91) rotate(-43)" y="1.05">Sweden</text>
<rect x="144.94" y="199.06" width="3.88" height="7.31" fill="#FF7A48"/><rect x="148.82" y="199.06" width="11.65" height="7.31" fill="#F1B87F"/><rect x="160.47" y="199.06" width="5.65" height="7.31" fill="#FFD731"/><rect x="166.12" y="199.06" width="3.18" height="7.31" fill="#45A548"/><rect x="169.3" y="199.06" width="3.18" height="7.31" fill="#469FFF"/><rect x="172.47" y="199.06" width="3.18" height="7.31" fill="#B5D8F8"/><rect x="175.65" y="199.06" width="4.59" height="7.31" fill="#FF80FF"/>
<text class="yl" transform="translate(141.54 203.22) rotate(-43)" y="1.05">Switzerland</text>
<rect x="144.94" y="206.37" width="12.53" height="7.31" fill="#FF7A48"/><rect x="157.47" y="206.37" width="5.47" height="7.31" fill="#F1B87F"/><rect x="162.94" y="206.37" width="3.88" height="7.31" fill="#FFD731"/><rect x="166.83" y="206.37" width="7.41" height="7.31" fill="#FFF0AE"/><rect x="174.24" y="206.37" width="1.24" height="7.31" fill="#45A548"/><rect x="175.47" y="206.37" width="1.09" height="7.31" fill="#469FFF"/><rect x="176.57" y="206.37" width="3.67" height="7.31" fill="#FF80FF"/>
<text class="yl" transform="translate(141.54 210.52) rotate(-43)" y="1.05">United Kingdom</text>
<rect x="144.94" y="213.68" width="21.89" height="7.31" fill="#FF7A48"/><rect x="166.83" y="213.68" width="2.29" height="7.31" fill="#F1B87F"/><rect x="169.12" y="213.68" width="3.35" height="7.31" fill="#FFD731"/><rect x="172.47" y="213.68" width="2.12" height="7.31" fill="#FFF0AE"/><rect x="174.59" y="213.68" width="1.76" height="7.31" fill="#469FFF"/><rect x="176.36" y="213.68" width="0.88" height="7.31" fill="#B5D8F8"/><rect x="177.24" y="213.68" width="3" height="7.31" fill="#FF80FF"/>
<text class="yl" transform="translate(141.54 217.83) rotate(-43)" y="1.05">United States</text>
<rect x="144.94" y="220.99" width="14.37" height="7.31" fill="#FF7A48"/><rect x="159.31" y="220.99" width="3.64" height="7.31" fill="#F1B87F"/><rect x="162.94" y="220.99" width="3.88" height="7.31" fill="#FFD731"/><rect x="166.83" y="220.99" width="3.78" height="7.31" fill="#FFF0AE"/><rect x="170.6" y="220.99" width="2.58" height="7.31" fill="#45A548"/><rect x="173.18" y="220.99" width="1.41" height="7.31" fill="#98DC98"/><rect x="174.59" y="220.99" width="1.41" height="7.31" fill="#469FFF"/><rect x="176" y="220.99" width="0.88" height="7.31" fill="#B5D8F8"/><rect x="176.89" y="220.99" width="3.35" height="7.31" fill="#FF80FF"/>
<text class="yl" transform="translate(141.54 225.14) rotate(-43)" y="1.05">All members</text>
<path d="M144.64 9V228.55" fill="none" stroke="#222" stroke-width="0.7"/><path d="M144.29 228.3H180.24" fill="none" stroke="#223" stroke-width="0.5"/>
<text class="xt" x="144.54" y="232.4">0</text><text class="xt" x="151.6" y="232.4">20</text><text class="xt" x="158.66" y="232.4">40</text><text class="xt" x="165.72" y="232.4">60</text><text class="xt" x="172.78" y="232.4">80</text><text class="xt" x="179.84" y="232.4">100</text>
<path d="M144.94 228.3v1.3M152 228.3v1.3M159.06 228.3v1.3M166.12 228.3v1.3M173.18 228.3v1.3M180.24 228.3v1.3M144.94 12.65h-1.3M144.94 19.96h-1.3M144.94 27.27h-1.3M144.94 34.58h-1.3M144.94 41.89h-1.3M144.94 49.2h-1.3M144.94 56.52h-1.3M144.94 63.82h-1.3M144.94 71.13h-1.3M144.94 78.44h-1.3M144.94 85.75h-1.3M144.94 93.06h-1.3M144.94 100.38h-1.3M144.94 107.68h-1.3M144.94 114.99h-1.3M144.94 122.3h-1.3M144.94 129.62h-1.3M144.94 136.93h-1.3M144.94 144.23h-1.3M144.94 151.54h-1.3M144.94 158.85h-1.3M144.94 166.16h-1.3M144.94 173.47h-1.3M144.94 180.78h-1.3M144.94 188.09h-1.3M144.94 195.41h-1.3M144.94 202.72h-1.3M144.94 210.02h-1.3M144.94 217.33h-1.3M144.94 224.64h-1.3" stroke="#222" stroke-width="0.25" opacity="0.6"/>
</g>
<g>
<text class="ti" x="222.76" y="6.5">2014</text>
<rect x="205.61" y="9" width="3.18" height="7.31" fill="#FF7A48"/><rect x="208.79" y="9" width="4.59" height="7.31" fill="#F1B87F"/><rect x="213.38" y="9" width="4.59" height="7.31" fill="#FFD731"/><rect x="217.96" y="9" width="9.88" height="7.31" fill="#FFF0AE"/><rect x="227.85" y="9" width="1.06" height="7.31" fill="#45A548"/><rect x="228.91" y="9" width="2.12" height="7.31" fill="#469FFF"/><rect x="231.03" y="9" width="1.41" height="7.31" fill="#B5D8F8"/><rect x="232.44" y="9" width="3.74" height="7.31" fill="#BF7FCB"/><rect x="236.18" y="9" width="4.73" height="7.31" fill="#FF80FF"/>
<text class="yl" transform="translate(202.21 13.15) rotate(-43)" y="1.05">Australia</text>
<rect x="205.61" y="16.31" width="13.27" height="7.31" fill="#F1B87F"/><rect x="218.88" y="16.31" width="2.97" height="7.31" fill="#FFD731"/><rect x="221.85" y="16.31" width="12.36" height="7.31" fill="#98DC98"/><rect x="234.2" y="16.31" width="1.06" height="7.31" fill="#B5D8F8"/><rect x="235.26" y="16.31" width="3.18" height="7.31" fill="#BF7FCB"/><rect x="238.44" y="16.31" width="2.47" height="7.31" fill="#FF80FF"/>
<text class="yl" transform="translate(202.21 20.46) rotate(-43)" y="1.05">Austria</text>
<rect x="205.61" y="23.62" width="8.37" height="7.31" fill="#FF7A48"/><rect x="213.98" y="23.62" width="4.91" height="7.31" fill="#F1B87F"/><rect x="218.88" y="23.62" width="6.74" height="7.31" fill="#FFD731"/><rect x="225.63" y="23.62" width="3.28" height="7.31" fill="#45A548"/><rect x="228.91" y="23.62" width="6.35" height="7.31" fill="#98DC98"/><rect x="235.26" y="23.62" width="1.76" height="7.31" fill="#469FFF"/><rect x="237.03" y="23.62" width="1.41" height="7.31" fill="#B5D8F8"/><rect x="238.44" y="23.62" width="2.47" height="7.31" fill="#FF80FF"/>
<text class="yl" transform="translate(202.21 27.77) rotate(-43)" y="1.05">Belgium</text>
<rect x="205.61" y="30.93" width="2.82" height="7.31" fill="#FF7A48"/><rect x="208.43" y="30.93" width="1.76" height="7.31" fill="#F1B87F"/><rect x="210.2" y="30.93" width="6.88" height="7.31" fill="#FFD731"/><rect x="217.08" y="30.93" width="3.71" height="7.31" fill="#FFF0AE"/><rect x="220.79" y="30.93" width="4.84" height="7.31" fill="#45A548"/><rect x="225.63" y="30.93" width="6.81" height="7.31" fill="#469FFF"/><rect x="232.44" y="30.93" width="8.47" height="7.31" fill="#FF80FF"/>
<text class="yl" transform="translate(202.21 35.09) rotate(-43)" y="1.05">Canada</text>
<rect x="205.61" y="38.24" width="1.76" height="7.31" fill="#F1B87F"/><rect x="207.37" y="38.24" width="2.47" height="7.31" fill="#FFD731"/><rect x="209.85" y="38.24" width="31.06" height="7.31" fill="#98DC98"/>
<text class="yl" transform="translate(202.21 42.39) rotate(-43)" y="1.05">Czech Republic</text>
<rect x="205.61" y="45.55" width="6.53" height="7.31" fill="#FF7A48"/><rect x="212.14" y="45.55" width="1.24" height="7.31" fill="#F1B87F"/><rect x="213.38" y="45.55" width="2.47" height="7.31" fill="#FFD731"/><rect x="215.85" y="45.55" width="15.18" height="7.31" fill="#45A548"/><rect x="231.03" y="45.55" width="1.41" height="7.31" fill="#98DC98"/><rect x="232.44" y="45.55" width="2.82" height="7.31" fill="#469FFF"/><rect x="235.26" y="45.55" width="0.92" height="7.31" fill="#B5D8F8"/><rect x="236.18" y="45.55" width="4.73" height="7.31" fill="#FF80FF"/>
<text class="yl" transform="translate(202.21 49.7) rotate(-43)" y="1.05">Denmark</text>
<rect x="205.61" y="52.86" width="2.37" height="7.31" fill="#FF7A48"/><rect x="207.98" y="52.86" width="3.64" height="7.31" fill="#FFD731"/><rect x="211.61" y="52.86" width="15.53" height="7.31" fill="#45A548"/><rect x="227.14" y="52.86" width="2.65" height="7.31" fill="#98DC98"/><rect x="229.79" y="52.86" width="4.06" height="7.31" fill="#469FFF"/><rect x="233.85" y="52.86" width="2.33" height="7.31" fill="#B5D8F8"/><rect x="236.18" y="52.86" width="4.73" height="7.31" fill="#FF80FF"/>
<text class="yl" transform="translate(202.21 57.02) rotate(-43)" y="1.05">Finland</text>
<rect x="205.61" y="60.17" width="25.06" height="7.31" fill="#FF7A48"/><rect x="230.67" y="60.17" width="1.41" height="7.31" fill="#F1B87F"/><rect x="232.08" y="60.17" width="1.76" height="7.31" fill="#FFF0AE"/><rect x="233.85" y="60.17" width="1.06" height="7.31" fill="#45A548"/><rect x="234.91" y="60.17" width="4.94" height="7.31" fill="#98DC98"/><rect x="239.85" y="60.17" width="1.06" height="7.31" fill="#FF80FF"/>
<text class="yl" transform="translate(202.21 64.32) rotate(-43)" y="1.05">France</text>
<rect x="205.61" y="67.48" width="20.02" height="7.31" fill="#FF7A48"/><rect x="225.63" y="67.48" width="2.93" height="7.31" fill="#F1B87F"/><rect x="228.55" y="67.48" width="2.12" height="7.31" fill="#FFD731"/><rect x="230.67" y="67.48" width="2.12" height="7.31" fill="#45A548"/><rect x="232.79" y="67.48" width="7.06" height="7.31" fill="#98DC98"/><rect x="239.85" y="67.48" width="1.06" height="7.31" fill="#FF80FF"/>
<text class="yl" transform="translate(202.21 71.63) rotate(-43)" y="1.05">Germany</text>
<rect x="205.61" y="74.79" width="9.11" height="7.31" fill="#FFD731"/><rect x="214.72" y="74.79" width="26.19" height="7.31" fill="#98DC98"/>
<text class="yl" transform="translate(202.21 78.94) rotate(-43)" y="1.05">Greece</text>
<rect x="205.61" y="82.1" width="6.53" height="7.31" fill="#F1B87F"/><rect x="212.14" y="82.1" width="6.18" height="7.31" fill="#FFD731"/><rect x="218.32" y="82.1" width="22.59" height="7.31" fill="#98DC98"/>
<text class="yl" transform="translate(202.21 86.25) rotate(-43)" y="1.05">Hungary</text>
<rect x="205.61" y="89.41" width="6.92" height="7.31" fill="#F1B87F"/><rect x="212.53" y="89.41" width="4.55" height="7.31" fill="#FFD731"/><rect x="217.08" y="89.41" width="4.06" height="7.31" fill="#45A548"/><rect x="221.14" y="89.41" width="15.88" height="7.31" fill="#469FFF"/><rect x="237.03" y="89.41" width="3.88" height="7.31" fill="#FF80FF"/>
<text class="yl" transform="translate(202.21 93.56) rotate(-43)" y="1.05">Iceland</text>
<rect x="205.61" y="96.72" width="10.59" height="7.31" fill="#FF7A48"/><rect x="216.2" y="96.72" width="1.41" height="7.31" fill="#F1B87F"/><rect x="217.61" y="96.72" width="2.47" height="7.31" fill="#FFD731"/><rect x="220.08" y="96.72" width="3" height="7.31" fill="#45A548"/><rect x="223.08" y="96.72" width="3" height="7.31" fill="#98DC98"/><rect x="226.08" y="96.72" width="6.71" height="7.31" fill="#469FFF"/><rect x="232.79" y="96.72" width="1.41" height="7.31" fill="#B5D8F8"/><rect x="234.2" y="96.72" width="6.71" height="7.31" fill="#FF80FF"/>
<text class="yl" transform="translate(202.21 100.88) rotate(-43)" y="1.05">Ireland</text>
<rect x="205.61" y="104.03" width="7.77" height="7.31" fill="#FF7A48"/><rect x="213.38" y="104.03" width="8.12" height="7.31" fill="#F1B87F"/><rect x="221.49" y="104.03" width="2.82" height="7.31" fill="#FFD731"/><rect x="224.32" y="104.03" width="0.88" height="7.31" fill="#45A548"/><rect x="225.2" y="104.03" width="11.83" height="7.31" fill="#98DC98"/><rect x="237.03" y="104.03" width="0.88" height="7.31" fill="#B5D8F8"/><rect x="237.91" y="104.03" width="1.59" height="7.31" fill="#BF7FCB"/><rect x="239.5" y="104.03" width="1.41" height="7.31" fill="#FF80FF"/>
<text class="yl" transform="translate(202.21 108.19) rotate(-43)" y="1.05">Italy</text>
<rect x="205.61" y="111.34" width="16.24" height="7.31" fill="#FF7A48"/><rect x="221.85" y="111.34" width="4.24" height="7.31" fill="#F1B87F"/><rect x="226.08" y="111.34" width="4.24" height="7.31" fill="#FFD731"/><rect x="230.32" y="111.34" width="2.12" height="7.31" fill="#45A548"/><rect x="232.44" y="111.34" width="4.59" height="7.31" fill="#469FFF"/><rect x="237.03" y="111.34" width="1.76" height="7.31" fill="#BF7FCB"/><rect x="238.79" y="111.34" width="2.12" height="7.31" fill="#FF80FF"/>
<text class="yl" transform="translate(202.21 115.49) rotate(-43)" y="1.05">Japan</text>
<rect x="205.61" y="118.65" width="3.18" height="7.31" fill="#FF7A48"/><rect x="208.79" y="118.65" width="10.94" height="7.31" fill="#FFD731"/><rect x="219.73" y="118.65" width="10.06" height="7.31" fill="#45A548"/><rect x="229.79" y="118.65" width="1.41" height="7.31" fill="#98DC98"/><rect x="231.2" y="118.65" width="2.65" height="7.31" fill="#469FFF"/><rect x="233.85" y="118.65" width="3.18" height="7.31" fill="#B5D8F8"/><rect x="237.03" y="118.65" width="3.88" height="7.31" fill="#FF80FF"/>
<text class="yl" transform="translate(202.21 122.8) rotate(-43)" y="1.05">Luxembourg</text>
<rect x="205.61" y="125.96" width="10.59" height="7.31" fill="#FF7A48"/><rect x="216.2" y="125.96" width="2.68" height="7.31" fill="#F1B87F"/><rect x="218.88" y="125.96" width="1.91" height="7.31" fill="#FFD731"/><rect x="220.79" y="125.96" width="2.29" height="7.31" fill="#FFF0AE"/><rect x="223.08" y="125.96" width="9" height="7.31" fill="#45A548"/><rect x="232.08" y="125.96" width="2.12" height="7.31" fill="#98DC98"/><rect x="234.2" y="125.96" width="2.82" height="7.31" fill="#469FFF"/><rect x="237.03" y="125.96" width="0.88" height="7.31" fill="#B5D8F8"/><rect x="237.91" y="125.96" width="3" height="7.31" fill="#FF80FF"/>
<text class="yl" transform="translate(202.21 130.11) rotate(-43)" y="1.05">Netherlands</text>
<rect x="205.61" y="133.27" width="2.37" height="7.31" fill="#F1B87F"/><rect x="207.98" y="133.27" width="9.99" height="7.31" fill="#FFD731"/><rect x="217.96" y="133.27" width="13.66" height="7.31" fill="#45A548"/><rect x="231.63" y="133.27" width="2.58" height="7.31" fill="#469FFF"/><rect x="234.2" y="133.27" width="3.88" height="7.31" fill="#B5D8F8"/><rect x="238.09" y="133.27" width="2.82" height="7.31" fill="#FF80FF"/>
<text class="yl" transform="translate(202.21 137.42) rotate(-43)" y="1.05">New Zealand</text>
<rect x="205.61" y="140.58" width="4.94" height="7.31" fill="#FF7A48"/><rect x="210.55" y="140.58" width="3.42" height="7.31" fill="#F1B87F"/><rect x="213.98" y="140.58" width="3.64" height="7.31" fill="#FFD731"/><rect x="217.61" y="140.58" width="11.3" height="7.31" fill="#FFF0AE"/><rect x="228.91" y="140.58" width="8.12" height="7.31" fill="#45A548"/><rect x="237.03" y="140.58" width="1.76" height="7.31" fill="#469FFF"/><rect x="238.79" y="140.58" width="2.12" height="7.31" fill="#FF80FF"/>
<text class="yl" transform="translate(202.21 144.73) rotate(-43)" y="1.05">Norway</text>
<rect x="205.61" y="147.89" width="7.77" height="7.31" fill="#FFD731"/><rect x="213.38" y="147.89" width="26.48" height="7.31" fill="#98DC98"/><rect x="239.85" y="147.89" width="1.06" height="7.31" fill="#FF80FF"/>
<text class="yl" transform="translate(202.21 152.04) rotate(-43)" y="1.05">Poland</text>
<rect x="205.61" y="155.2" width="1.41" height="7.31" fill="#FFD731"/><rect x="207.02" y="155.2" width="32.83" height="7.31" fill="#98DC98"/><rect x="239.85" y="155.2" width="1.06" height="7.31" fill="#FF80FF"/>
<text class="yl" transform="translate(202.21 159.35) rotate(-43)" y="1.05">Portugal</text>
<rect x="205.61" y="162.51" width="7.77" height="7.31" fill="#FFD731"/><rect x="213.38" y="162.51" width="27.53" height="7.31" fill="#98DC98"/>
<text class="yl" transform="translate(202.21 166.66) rotate(-43)" y="1.05">Slovak Republic</text>
<rect x="205.61" y="169.82" width="4.24" height="7.31" fill="#F1B87F"/><rect x="209.85" y="169.82" width="4.87" height="7.31" fill="#FFD731"/><rect x="214.72" y="169.82" width="26.19" height="7.31" fill="#98DC98"/>
<text class="yl" transform="translate(202.21 173.97) rotate(-43)" y="1.05">Slovenia</text>
<rect x="205.61" y="177.13" width="2.37" height="7.31" fill="#FF7A48"/><rect x="207.98" y="177.13" width="8.22" height="7.31" fill="#F1B87F"/><rect x="216.2" y="177.13" width="10.94" height="7.31" fill="#FFD731"/><rect x="227.14" y="177.13" width="10.94" height="7.31" fill="#469FFF"/><rect x="238.09" y="177.13" width="1.41" height="7.31" fill="#BF7FCB"/><rect x="239.5" y="177.13" width="1.41" height="7.31" fill="#FF80FF"/>
<text class="yl" transform="translate(202.21 181.28) rotate(-43)" y="1.05">South Korea</text>
<rect x="205.61" y="184.44" width="6.92" height="7.31" fill="#FFD731"/><rect x="212.53" y="184.44" width="1.8" height="7.31" fill="#45A548"/><rect x="214.33" y="184.44" width="21.85" height="7.31" fill="#98DC98"/><rect x="236.18" y="184.44" width="3.67" height="7.31" fill="#BF7FCB"/><rect x="239.85" y="184.44" width="1.06" height="7.31" fill="#FF80FF"/>
<text class="yl" transform="translate(202.21 188.59) rotate(-43)" y="1.05">Spain</text>
<rect x="205.61" y="191.75" width="6.53" height="7.31" fill="#FF7A48"/><rect x="212.14" y="191.75" width="3" height="7.31" fill="#F1B87F"/><rect x="215.14" y="191.75" width="2.82" height="7.31" fill="#FFD731"/><rect x="217.96" y="191.75" width="5.12" height="7.31" fill="#FFF0AE"/><rect x="223.08" y="191.75" width="7.24" height="7.31" fill="#45A548"/><rect x="230.32" y="191.75" width="1.24" height="7.31" fill="#98DC98"/><rect x="231.56" y="191.75" width="2.65" height="7.31" fill="#469FFF"/><rect x="234.2" y="191.75" width="1.98" height="7.31" fill="#B5D8F8"/><rect x="236.18" y="191.75" width="4.73" height="7.31" fill="#FF80FF"/>
<text class="yl" transform="translate(202.21 195.91) rotate(-43)" y="1.05">Sweden</text>
<rect x="205.61" y="199.06" width="6.53" height="7.31" fill="#FF7A48"/><rect x="212.14" y="199.06" width="5.82" height="7.31" fill="#F1B87F"/><rect x="217.96" y="199.06" width="5.82" height="7.31" fill="#FFD731"/><rect x="223.79" y="199.06" width="6" height="7.31" fill="#45A548"/><rect x="229.79" y="199.06" width="2.29" height="7.31" fill="#469FFF"/><rect x="232.08" y="199.06" width="2.12" height="7.31" fill="#B5D8F8"/><rect x="234.2" y="199.06" width="6.71" height="7.31" fill="#FF80FF"/>
<text class="yl" transform="translate(202.21 203.22) rotate(-43)" y="1.05">Switzerland</text>
<rect x="205.61" y="206.37" width="10.59" height="7.31" fill="#FF7A48"/><rect x="216.2" y="206.37" width="4.59" height="7.31" fill="#F1B87F"/><rect x="220.79" y="206.37" width="4.48" height="7.31" fill="#FFD731"/><rect x="225.27" y="206.37" width="4.52" height="7.31" fill="#FFF0AE"/><rect x="229.79" y="206.37" width="6.39" height="7.31" fill="#45A548"/><rect x="236.18" y="206.37" width="1.45" height="7.31" fill="#469FFF"/><rect x="237.63" y="206.37" width="3.28" height="7.31" fill="#FF80FF"/>
<text class="yl" transform="translate(202.21 210.52) rotate(-43)" y="1.05">United Kingdom</text>
<rect x="205.61" y="213.68" width="23.65" height="7.31" fill="#FF7A48"/><rect x="229.26" y="213.68" width="2.37" height="7.31" fill="#F1B87F"/><rect x="231.63" y="213.68" width="2.58" height="7.31" fill="#FFD731"/><rect x="234.2" y="213.68" width="1.59" height="7.31" fill="#FFF0AE"/><rect x="235.79" y="213.68" width="1.84" height="7.31" fill="#469FFF"/><rect x="237.63" y="213.68" width="0.81" height="7.31" fill="#B5D8F8"/><rect x="238.44" y="213.68" width="2.47" height="7.31" fill="#FF80FF"/>
<text class="yl" transform="translate(202.21 217.83) rotate(-43)" y="1.05">United States</text>
<rect x="205.61" y="220.99" width="15.18" height="7.31" fill="#FF7A48"/><rect x="220.79" y="220.99" width="3" height="7.31" fill="#F1B87F"/><rect x="223.79" y="220.99" width="4.06" height="7.31" fill="#FFD731"/><rect x="227.85" y="220.99" width="2.47" height="7.31" fill="#FFF0AE"/><rect x="230.32" y="220.99" width="3.88" height="7.31" fill="#45A548"/><rect x="234.2" y="220.99" width="1.59" height="7.31" fill="#98DC98"/><rect x="235.79" y="220.99" width="1.84" height="7.31" fill="#469FFF"/><rect x="237.63" y="220.99" width="0.81" height="7.31" fill="#B5D8F8"/><rect x="238.44" y="220.99" width="2.47" height="7.31" fill="#FF80FF"/>
<text class="yl" transform="translate(202.21 225.14) rotate(-43)" y="1.05">All members</text>
<path d="M205.31 9V228.55" fill="none" stroke="#222" stroke-width="0.7"/><path d="M204.96 228.3H240.91" fill="none" stroke="#223" stroke-width="0.5"/>
<text class="xt" x="205.21" y="232.4">0</text><text class="xt" x="212.27" y="232.4">20</text><text class="xt" x="219.33" y="232.4">40</text><text class="xt" x="226.39" y="232.4">60</text><text class="xt" x="233.45" y="232.4">80</text><text class="xt" x="240.51" y="232.4">100</text>
<path d="M205.61 228.3v1.3M212.67 228.3v1.3M219.73 228.3v1.3M226.79 228.3v1.3M233.85 228.3v1.3M240.91 228.3v1.3M205.61 12.65h-1.3M205.61 19.96h-1.3M205.61 27.27h-1.3M205.61 34.58h-1.3M205.61 41.89h-1.3M205.61 49.2h-1.3M205.61 56.52h-1.3M205.61 63.82h-1.3M205.61 71.13h-1.3M205.61 78.44h-1.3M205.61 85.75h-1.3M205.61 93.06h-1.3M205.61 100.38h-1.3M205.61 107.68h-1.3M205.61 114.99h-1.3M205.61 122.3h-1.3M205.61 129.62h-1.3M205.61 136.93h-1.3M205.61 144.23h-1.3M205.61 151.54h-1.3M205.61 158.85h-1.3M205.61 166.16h-1.3M205.61 173.47h-1.3M205.61 180.78h-1.3M205.61 188.09h-1.3M205.61 195.41h-1.3M205.61 202.72h-1.3M205.61 210.02h-1.3M205.61 217.33h-1.3M205.61 224.64h-1.3" stroke="#222" stroke-width="0.25" opacity="0.6"/>
</g>
<g>
<text class="ti" x="283.43" y="6.5">2015</text>
<rect x="266.28" y="9" width="12" height="7.31" fill="#FF7A48"/><rect x="278.28" y="9" width="6" height="7.31" fill="#F1B87F"/><rect x="284.28" y="9" width="9.53" height="7.31" fill="#FFD731"/><rect x="293.81" y="9" width="1.41" height="7.31" fill="#45A548"/><rect x="295.23" y="9" width="1.24" height="7.31" fill="#469FFF"/><rect x="296.46" y="9" width="0.88" height="7.31" fill="#B5D8F8"/><rect x="297.34" y="9" width="4.24" height="7.31" fill="#FF80FF"/>
<text class="yl" transform="translate(262.88 13.15) rotate(-43)" y="1.05">Australia</text>
<rect x="266.28" y="16.31" width="16.59" height="7.31" fill="#F1B87F"/><rect x="282.87" y="16.31" width="2.68" height="7.31" fill="#FFD731"/><rect x="285.55" y="16.31" width="10.91" height="7.31" fill="#98DC98"/><rect x="296.46" y="16.31" width="2.65" height="7.31" fill="#BF7FCB"/><rect x="299.11" y="16.31" width="2.47" height="7.31" fill="#FF80FF"/>
<text class="yl" transform="translate(262.88 20.46) rotate(-43)" y="1.05">Austria</text>
<rect x="266.28" y="23.62" width="10.94" height="7.31" fill="#FF7A48"/><rect x="277.22" y="23.62" width="1.06" height="7.31" fill="#F1B87F"/><rect x="278.28" y="23.62" width="5.47" height="7.31" fill="#FFD731"/><rect x="283.75" y="23.62" width="2.29" height="7.31" fill="#45A548"/><rect x="286.05" y="23.62" width="9.18" height="7.31" fill="#98DC98"/><rect x="295.23" y="23.62" width="2.12" height="7.31" fill="#469FFF"/><rect x="297.34" y="23.62" width="1.76" height="7.31" fill="#B5D8F8"/><rect x="299.11" y="23.62" width="2.47" height="7.31" fill="#FF80FF"/>
<text class="yl" transform="translate(262.88 27.77) rotate(-43)" y="1.05">Belgium</text>
<rect x="266.28" y="30.93" width="20.12" height="7.31" fill="#FF7A48"/><rect x="286.4" y="30.93" width="3.71" height="7.31" fill="#F1B87F"/><rect x="290.11" y="30.93" width="2.65" height="7.31" fill="#FFD731"/><rect x="292.76" y="30.93" width="2.47" height="7.31" fill="#45A548"/><rect x="295.23" y="30.93" width="3.07" height="7.31" fill="#469FFF"/><rect x="298.3" y="30.93" width="3.28" height="7.31" fill="#FF80FF"/>
<text class="yl" transform="translate(262.88 35.09) rotate(-43)" y="1.05">Canada</text>
<rect x="266.28" y="38.24" width="3.88" height="7.31" fill="#F1B87F"/><rect x="270.16" y="38.24" width="8.12" height="7.31" fill="#FFD731"/><rect x="278.28" y="38.24" width="23.3" height="7.31" fill="#98DC98"/>
<text class="yl" transform="translate(262.88 42.39) rotate(-43)" y="1.05">Czech Republic</text>
<rect x="266.28" y="45.55" width="8.37" height="7.31" fill="#FF7A48"/><rect x="274.65" y="45.55" width="4.55" height="7.31" fill="#F1B87F"/><rect x="279.2" y="45.55" width="3.67" height="7.31" fill="#FFD731"/><rect x="282.87" y="45.55" width="7.24" height="7.31" fill="#45A548"/><rect x="290.11" y="45.55" width="3.71" height="7.31" fill="#98DC98"/><rect x="293.81" y="45.55" width="1.76" height="7.31" fill="#469FFF"/><rect x="295.58" y="45.55" width="1.76" height="7.31" fill="#B5D8F8"/><rect x="297.34" y="45.55" width="4.24" height="7.31" fill="#FF80FF"/>
<text class="yl" transform="translate(262.88 49.7) rotate(-43)" y="1.05">Denmark</text>
<rect x="266.28" y="52.86" width="5.65" height="7.31" fill="#F1B87F"/><rect x="271.93" y="52.86" width="3.88" height="7.31" fill="#FFD731"/><rect x="275.81" y="52.86" width="11.65" height="7.31" fill="#45A548"/><rect x="287.46" y="52.86" width="4.84" height="7.31" fill="#98DC98"/><rect x="292.3" y="52.86" width="1.87" height="7.31" fill="#469FFF"/><rect x="294.17" y="52.86" width="4.13" height="7.31" fill="#B5D8F8"/><rect x="298.3" y="52.86" width="3.28" height="7.31" fill="#FF80FF"/>
<text class="yl" transform="translate(262.88 57.02) rotate(-43)" y="1.05">Finland</text>
<rect x="266.28" y="60.17" width="22.95" height="7.31" fill="#FF7A48"/><rect x="289.23" y="60.17" width="4.24" height="7.31" fill="#F1B87F"/><rect x="293.46" y="60.17" width="1.76" height="7.31" fill="#FFF0AE"/><rect x="295.23" y="60.17" width="0.71" height="7.31" fill="#45A548"/><rect x="295.93" y="60.17" width="4.59" height="7.31" fill="#98DC98"/><rect x="300.52" y="60.17" width="1.06" height="7.31" fill="#FF80FF"/>
<text class="yl" transform="translate(262.88 64.32) rotate(-43)" y="1.05">France</text>
<rect x="266.28" y="67.48" width="19.27" height="7.31" fill="#FF7A48"/><rect x="285.55" y="67.48" width="2.26" height="7.31" fill="#FFD731"/><rect x="287.81" y="67.48" width="2.82" height="7.31" fill="#FFF0AE"/><rect x="290.64" y="67.48" width="1.31" height="7.31" fill="#45A548"/><rect x="291.94" y="67.48" width="8.22" height="7.31" fill="#98DC98"/><rect x="300.17" y="67.48" width="1.41" height="7.31" fill="#FF80FF"/>
<text class="yl" transform="translate(262.88 71.63) rotate(-43)" y="1.05">Germany</text>
<rect x="266.28" y="74.79" width="8.82" height="7.31" fill="#FFD731"/><rect x="275.11" y="74.79" width="26.48" height="7.31" fill="#98DC98"/>
<text class="yl" transform="translate(262.88 78.94) rotate(-43)" y="1.05">Greece</text>
<rect x="266.28" y="82.1" width="10.24" height="7.31" fill="#F1B87F"/><rect x="276.52" y="82.1" width="4.94" height="7.31" fill="#FFD731"/><rect x="281.46" y="82.1" width="20.12" height="7.31" fill="#98DC98"/>
<text class="yl" transform="translate(262.88 86.25) rotate(-43)" y="1.05">Hungary</text>
<rect x="266.28" y="89.41" width="21.89" height="7.31" fill="#F1B87F"/><rect x="288.17" y="89.41" width="4.59" height="7.31" fill="#FFD731"/><rect x="292.76" y="89.41" width="4.24" height="7.31" fill="#45A548"/><rect x="296.99" y="89.41" width="4.59" height="7.31" fill="#469FFF"/>
<text class="yl" transform="translate(262.88 93.56) rotate(-43)" y="1.05">Iceland</text>
<rect x="266.28" y="96.72" width="10.59" height="7.31" fill="#FF7A48"/><rect x="276.87" y="96.72" width="2.33" height="7.31" fill="#F1B87F"/><rect x="279.2" y="96.72" width="2.61" height="7.31" fill="#FFD731"/><rect x="281.81" y="96.72" width="2.47" height="7.31" fill="#FFF0AE"/><rect x="284.28" y="96.72" width="1.76" height="7.31" fill="#45A548"/><rect x="286.05" y="96.72" width="4.94" height="7.31" fill="#98DC98"/><rect x="290.99" y="96.72" width="4.59" height="7.31" fill="#469FFF"/><rect x="295.58" y="96.72" width="6" height="7.31" fill="#FF80FF"/>
<text class="yl" transform="translate(262.88 100.88) rotate(-43)" y="1.05">Ireland</text>
<rect x="266.28" y="104.03" width="8.82" height="7.31" fill="#FF7A48"/><rect x="275.11" y="104.03" width="6.35" height="7.31" fill="#F1B87F"/><rect x="281.46" y="104.03" width="2.29" height="7.31" fill="#FFD731"/><rect x="283.75" y="104.03" width="0.88" height="7.31" fill="#45A548"/><rect x="284.64" y="104.03" width="14.83" height="7.31" fill="#98DC98"/><rect x="299.46" y="104.03" width="2.12" height="7.31" fill="#FF80FF"/>
<text class="yl" transform="translate(262.88 108.19) rotate(-43)" y="1.05">Italy</text>
<rect x="266.28" y="111.34" width="15.53" height="7.31" fill="#FF7A48"/><rect x="281.81" y="111.34" width="9.74" height="7.31" fill="#F1B87F"/><rect x="291.55" y="111.34" width="4.38" height="7.31" fill="#FFD731"/><rect x="295.93" y="111.34" width="1.76" height="7.31" fill="#45A548"/><rect x="297.7" y="111.34" width="1.41" height="7.31" fill="#469FFF"/><rect x="299.11" y="111.34" width="1.41" height="7.31" fill="#BF7FCB"/><rect x="300.52" y="111.34" width="1.06" height="7.31" fill="#FF80FF"/>
<text class="yl" transform="translate(262.88 115.49) rotate(-43)" y="1.05">Japan</text>
<rect x="266.28" y="118.65" width="4.59" height="7.31" fill="#FF7A48"/><rect x="270.87" y="118.65" width="12" height="7.31" fill="#FFD731"/><rect x="282.87" y="118.65" width="7.24" height="7.31" fill="#45A548"/><rect x="290.11" y="118.65" width="5.47" height="7.31" fill="#469FFF"/><rect x="295.58" y="118.65" width="3.18" height="7.31" fill="#B5D8F8"/><rect x="298.76" y="118.65" width="2.82" height="7.31" fill="#FF80FF"/>
<text class="yl" transform="translate(262.88 122.8) rotate(-43)" y="1.05">Luxembourg</text>
<rect x="266.28" y="125.96" width="8.37" height="7.31" fill="#FF7A48"/><rect x="274.65" y="125.96" width="4.17" height="7.31" fill="#F1B87F"/><rect x="278.81" y="125.96" width="2.19" height="7.31" fill="#FFD731"/><rect x="281" y="125.96" width="3.99" height="7.31" fill="#FFF0AE"/><rect x="284.99" y="125.96" width="7.77" height="7.31" fill="#45A548"/><rect x="292.76" y="125.96" width="1.76" height="7.31" fill="#98DC98"/><rect x="294.52" y="125.96" width="2.82" height="7.31" fill="#469FFF"/><rect x="297.34" y="125.96" width="1.76" height="7.31" fill="#B5D8F8"/><rect x="299.11" y="125.96" width="2.47" height="7.31" fill="#FF80FF"/>
<text class="yl" transform="translate(262.88 130.11) rotate(-43)" y="1.05">Netherlands</text>
<rect x="266.28" y="133.27" width="2.82" height="7.31" fill="#F1B87F"/><rect x="269.1" y="133.27" width="10.1" height="7.31" fill="#FFD731"/><rect x="279.2" y="133.27" width="12.74" height="7.31" fill="#45A548"/><rect x="291.94" y="133.27" width="5.4" height="7.31" fill="#469FFF"/><rect x="297.34" y="133.27" width="2.12" height="7.31" fill="#B5D8F8"/><rect x="299.46" y="133.27" width="2.12" height="7.31" fill="#FF80FF"/>
<text class="yl" transform="translate(262.88 137.42) rotate(-43)" y="1.05">New Zealand</text>
<rect x="266.28" y="140.58" width="6.53" height="7.31" fill="#FF7A48"/><rect x="272.81" y="140.58" width="4.94" height="7.31" fill="#F1B87F"/><rect x="277.75" y="140.58" width="2.89" height="7.31" fill="#FFD731"/><rect x="280.65" y="140.58" width="12.81" height="7.31" fill="#FFF0AE"/><rect x="293.46" y="140.58" width="4.84" height="7.31" fill="#45A548"/><rect x="298.3" y="140.58" width="1.16" height="7.31" fill="#469FFF"/><rect x="299.46" y="140.58" width="2.12" height="7.31" fill="#FF80FF"/>
<text class="yl" transform="translate(262.88 144.73) rotate(-43)" y="1.05">Norway</text>
<rect x="266.28" y="147.89" width="4.59" height="7.31" fill="#F1B87F"/><rect x="270.87" y="147.89" width="6" height="7.31" fill="#FFD731"/><rect x="276.87" y="147.89" width="24.71" height="7.31" fill="#98DC98"/>
<text class="yl" transform="translate(262.88 152.04) rotate(-43)" y="1.05">Poland</text>
<rect x="266.28" y="155.2" width="6.53" height="7.31" fill="#FFD731"/><rect x="272.81" y="155.2" width="21" height="7.31" fill="#98DC98"/><rect x="293.81" y="155.2" width="7.77" height="7.31" fill="#FF80FF"/>
<text class="yl" transform="translate(262.88 159.35) rotate(-43)" y="1.05">Portugal</text>
<rect x="266.28" y="162.51" width="8.82" height="7.31" fill="#F1B87F"/><rect x="275.11" y="162.51" width="5.9" height="7.31" fill="#FFD731"/><rect x="281" y="162.51" width="20.58" height="7.31" fill="#98DC98"/>
<text class="yl" transform="translate(262.88 166.66) rotate(-43)" y="1.05">Slovak Republic</text>
<rect x="266.28" y="169.82" width="5.65" height="7.31" fill="#F1B87F"/><rect x="271.93" y="169.82" width="5.29" height="7.31" fill="#FFD731"/><rect x="277.22" y="169.82" width="24.36" height="7.31" fill="#98DC98"/>
<text class="yl" transform="translate(262.88 173.97) rotate(-43)" y="1.05">Slovenia</text>
<rect x="266.28" y="177.13" width="2.01" height="7.31" fill="#FF7A48"/><rect x="268.29" y="177.13" width="8.22" height="7.31" fill="#F1B87F"/><rect x="276.52" y="177.13" width="7.24" height="7.31" fill="#FFD731"/><rect x="283.75" y="177.13" width="1.8" height="7.31" fill="#FFF0AE"/><rect x="285.55" y="177.13" width="1.91" height="7.31" fill="#45A548"/><rect x="287.46" y="177.13" width="12.71" height="7.31" fill="#469FFF"/><rect x="300.17" y="177.13" width="1.41" height="7.31" fill="#FF80FF"/>
<text class="yl" transform="translate(262.88 181.28) rotate(-43)" y="1.05">South Korea</text>
<rect x="266.28" y="184.44" width="2.01" height="7.31" fill="#F1B87F"/><rect x="268.29" y="184.44" width="6.35" height="7.31" fill="#FFD731"/><rect x="274.65" y="184.44" width="25.52" height="7.31" fill="#98DC98"/><rect x="300.17" y="184.44" width="1.41" height="7.31" fill="#FF80FF"/>
<text class="yl" transform="translate(262.88 188.59) rotate(-43)" y="1.05">Spain</text>
<rect x="266.28" y="191.75" width="10.24" height="7.31" fill="#FF7A48"/><rect x="276.52" y="191.75" width="3.53" height="7.31" fill="#F1B87F"/><rect x="280.05" y="191.75" width="2.82" height="7.31" fill="#FFD731"/><rect x="282.87" y="191.75" width="3.53" height="7.31" fill="#FFF0AE"/><rect x="286.4" y="191.75" width="5.54" height="7.31" fill="#45A548"/><rect x="291.94" y="191.75" width="1.87" height="7.31" fill="#98DC98"/><rect x="293.81" y="191.75" width="2.12" height="7.31" fill="#469FFF"/><rect x="295.93" y="191.75" width="1.41" height="7.31" fill="#B5D8F8"/><rect x="297.34" y="191.75" width="4.24" height="7.31" fill="#FF80FF"/>
<text class="yl" transform="translate(262.88 195.91) rotate(-43)" y="1.05">Sweden</text>
<rect x="266.28" y="199.06" width="7.41" height="7.31" fill="#FF7A48"/><rect x="273.69" y="199.06" width="9.18" height="7.31" fill="#F1B87F"/><rect x="282.87" y="199.06" width="4.59" height="7.31" fill="#FFD731"/><rect x="287.46" y="199.06" width="4.48" height="7.31" fill="#45A548"/><rect x="291.94" y="199.06" width="1.87" height="7.31" fill="#469FFF"/><rect x="293.81" y="199.06" width="3.53" height="7.31" fill="#B5D8F8"/><rect x="297.34" y="199.06" width="4.24" height="7.31" fill="#FF80FF"/>
<text class="yl" transform="translate(262.88 203.22) rotate(-43)" y="1.05">Switzerland</text>
<rect x="266.28" y="206.37" width="4.94" height="7.31" fill="#FF7A48"/><rect x="271.22" y="206.37" width="5.65" height="7.31" fill="#F1B87F"/><rect x="276.87" y="206.37" width="3.53" height="7.31" fill="#FFD731"/><rect x="280.4" y="206.37" width="9.88" height="7.31" fill="#FFF0AE"/><rect x="290.28" y="206.37" width="4.24" height="7.31" fill="#45A548"/><rect x="294.52" y="206.37" width="2.47" height="7.31" fill="#469FFF"/><rect x="296.99" y="206.37" width="1.76" height="7.31" fill="#B5D8F8"/><rect x="298.76" y="206.37" width="2.82" height="7.31" fill="#FF80FF"/>
<text class="yl" transform="translate(262.88 210.52) rotate(-43)" y="1.05">United Kingdom</text>
<rect x="266.28" y="213.68" width="12.71" height="7.31" fill="#FF7A48"/><rect x="278.99" y="213.68" width="3.39" height="7.31" fill="#F1B87F"/><rect x="282.38" y="213.68" width="4.55" height="7.31" fill="#FFD731"/><rect x="286.93" y="213.68" width="4.94" height="7.31" fill="#FFF0AE"/><rect x="291.87" y="213.68" width="1.06" height="7.31" fill="#45A548"/><rect x="292.93" y="213.68" width="2.65" height="7.31" fill="#469FFF"/><rect x="295.58" y="213.68" width="1.41" height="7.31" fill="#B5D8F8"/><rect x="296.99" y="213.68" width="4.59" height="7.31" fill="#FF80FF"/>
<text class="yl" transform="translate(262.88 217.83) rotate(-43)" y="1.05">United States</text>
<rect x="266.28" y="220.99" width="12.36" height="7.31" fill="#FF7A48"/><rect x="278.64" y="220.99" width="4.59" height="7.31" fill="#F1B87F"/><rect x="283.22" y="220.99" width="3.71" height="7.31" fill="#FFD731"/><rect x="286.93" y="220.99" width="4.59" height="7.31" fill="#FFF0AE"/><rect x="291.52" y="220.99" width="2.65" height="7.31" fill="#45A548"/><rect x="294.17" y="220.99" width="1.41" height="7.31" fill="#98DC98"/><rect x="295.58" y="220.99" width="1.76" height="7.31" fill="#469FFF"/><rect x="297.34" y="220.99" width="1.06" height="7.31" fill="#B5D8F8"/><rect x="298.4" y="220.99" width="3.18" height="7.31" fill="#FF80FF"/>
<text class="yl" transform="translate(262.88 225.14) rotate(-43)" y="1.05">All members</text>
<path d="M265.98 9V228.55" fill="none" stroke="#222" stroke-width="0.7"/><path d="M265.63 228.3H301.58" fill="none" stroke="#223" stroke-width="0.5"/>
<text class="xt" x="265.88" y="232.4">0</text><text class="xt" x="272.94" y="232.4">20</text><text class="xt" x="280" y="232.4">40</text><text class="xt" x="287.06" y="232.4">60</text><text class="xt" x="294.12" y="232.4">80</text><text class="xt" x="301.18" y="232.4">100</text>
<path d="M266.28 228.3v1.3M273.34 228.3v1.3M280.4 228.3v1.3M287.46 228.3v1.3M294.52 228.3v1.3M301.58 228.3v1.3M266.28 12.65h-1.3M266.28 19.96h-1.3M266.28 27.27h-1.3M266.28 34.58h-1.3M266.28 41.89h-1.3M266.28 49.2h-1.3M266.28 56.52h-1.3M266.28 63.82h-1.3M266.28 71.13h-1.3M266.28 78.44h-1.3M266.28 85.75h-1.3M266.28 93.06h-1.3M266.28 100.38h-1.3M266.28 107.68h-1.3M266.28 114.99h-1.3M266.28 122.3h-1.3M266.28 129.62h-1.3M266.28 136.93h-1.3M266.28 144.23h-1.3M266.28 151.54h-1.3M266.28 158.85h-1.3M266.28 166.16h-1.3M266.28 173.47h-1.3M266.28 180.78h-1.3M266.28 188.09h-1.3M266.28 195.41h-1.3M266.28 202.72h-1.3M266.28 210.02h-1.3M266.28 217.33h-1.3M266.28 224.64h-1.3" stroke="#222" stroke-width="0.25" opacity="0.6"/>
</g>
<g>
<text class="ti" x="344.1" y="6.5">2016</text>
<rect x="326.95" y="9" width="11.3" height="7.31" fill="#FF7A48"/><rect x="338.25" y="9" width="4.59" height="7.31" fill="#F1B87F"/><rect x="342.84" y="9" width="7.24" height="7.31" fill="#FFD731"/><rect x="350.07" y="9" width="7.24" height="7.31" fill="#FFF0AE"/><rect x="357.31" y="9" width="0.88" height="7.31" fill="#45A548"/><rect x="358.19" y="9" width="0.88" height="7.31" fill="#B5D8F8"/><rect x="359.07" y="9" width="3.18" height="7.31" fill="#FF80FF"/>
<text class="yl" transform="translate(323.55 13.15) rotate(-43)" y="1.05">Australia</text>
<rect x="326.95" y="16.31" width="15.53" height="7.31" fill="#F1B87F"/><rect x="342.48" y="16.31" width="2.12" height="7.31" fill="#FFD731"/><rect x="344.6" y="16.31" width="12.71" height="7.31" fill="#98DC98"/><rect x="357.31" y="16.31" width="1.76" height="7.31" fill="#BF7FCB"/><rect x="359.07" y="16.31" width="3.18" height="7.31" fill="#FF80FF"/>
<text class="yl" transform="translate(323.55 20.46) rotate(-43)" y="1.05">Austria</text>
<rect x="326.95" y="23.62" width="10.24" height="7.31" fill="#FF7A48"/><rect x="337.19" y="23.62" width="1.06" height="7.31" fill="#F1B87F"/><rect x="338.25" y="23.62" width="4.94" height="7.31" fill="#FFD731"/><rect x="343.19" y="23.62" width="3.53" height="7.31" fill="#45A548"/><rect x="346.72" y="23.62" width="9.71" height="7.31" fill="#98DC98"/><rect x="356.43" y="23.62" width="1.8" height="7.31" fill="#469FFF"/><rect x="358.23" y="23.62" width="1.73" height="7.31" fill="#B5D8F8"/><rect x="359.96" y="23.62" width="2.29" height="7.31" fill="#FF80FF"/>
<text class="yl" transform="translate(323.55 27.77) rotate(-43)" y="1.05">Belgium</text>
<rect x="326.95" y="30.93" width="13.06" height="7.31" fill="#FF7A48"/><rect x="340.01" y="30.93" width="6" height="7.31" fill="#F1B87F"/><rect x="346.01" y="30.93" width="3.53" height="7.31" fill="#FFD731"/><rect x="349.54" y="30.93" width="4.59" height="7.31" fill="#FFF0AE"/><rect x="354.13" y="30.93" width="4.94" height="7.31" fill="#469FFF"/><rect x="359.07" y="30.93" width="3.18" height="7.31" fill="#FF80FF"/>
<text class="yl" transform="translate(323.55 35.09) rotate(-43)" y="1.05">Canada</text>
<rect x="326.95" y="38.24" width="2.12" height="7.31" fill="#F1B87F"/><rect x="329.07" y="38.24" width="5.51" height="7.31" fill="#FFD731"/><rect x="334.57" y="38.24" width="27.68" height="7.31" fill="#98DC98"/>
<text class="yl" transform="translate(323.55 42.39) rotate(-43)" y="1.05">Czech Republic</text>
<rect x="326.95" y="45.55" width="3.88" height="7.31" fill="#FF7A48"/><rect x="330.83" y="45.55" width="6" height="7.31" fill="#F1B87F"/><rect x="336.83" y="45.55" width="2.65" height="7.31" fill="#FFD731"/><rect x="339.48" y="45.55" width="10.59" height="7.31" fill="#45A548"/><rect x="350.07" y="45.55" width="4.41" height="7.31" fill="#98DC98"/><rect x="354.48" y="45.55" width="1.94" height="7.31" fill="#469FFF"/><rect x="356.43" y="45.55" width="1.8" height="7.31" fill="#B5D8F8"/><rect x="358.23" y="45.55" width="4.02" height="7.31" fill="#FF80FF"/>
<text class="yl" transform="translate(323.55 49.7) rotate(-43)" y="1.05">Denmark</text>
<rect x="326.95" y="52.86" width="3.88" height="7.31" fill="#F1B87F"/><rect x="330.83" y="52.86" width="2.82" height="7.31" fill="#FFD731"/><rect x="333.66" y="52.86" width="11.86" height="7.31" fill="#45A548"/><rect x="345.52" y="52.86" width="8.26" height="7.31" fill="#98DC98"/><rect x="353.78" y="52.86" width="1.76" height="7.31" fill="#469FFF"/><rect x="355.54" y="52.86" width="2.68" height="7.31" fill="#B5D8F8"/><rect x="358.23" y="52.86" width="4.02" height="7.31" fill="#FF80FF"/>
<text class="yl" transform="translate(323.55 57.02) rotate(-43)" y="1.05">Finland</text>
<rect x="326.95" y="60.17" width="23.12" height="7.31" fill="#FF7A48"/><rect x="350.07" y="60.17" width="1.8" height="7.31" fill="#F1B87F"/><rect x="351.87" y="60.17" width="2.26" height="7.31" fill="#FFF0AE"/><rect x="354.13" y="60.17" width="6.71" height="7.31" fill="#98DC98"/><rect x="360.84" y="60.17" width="1.41" height="7.31" fill="#FF80FF"/>
<text class="yl" transform="translate(323.55 64.32) rotate(-43)" y="1.05">France</text>
<rect x="326.95" y="67.48" width="16.24" height="7.31" fill="#FF7A48"/><rect x="343.19" y="67.48" width="3.18" height="7.31" fill="#F1B87F"/><rect x="346.37" y="67.48" width="2.12" height="7.31" fill="#FFD731"/><rect x="348.48" y="67.48" width="3.04" height="7.31" fill="#FFF0AE"/><rect x="351.52" y="67.48" width="1.2" height="7.31" fill="#45A548"/><rect x="352.72" y="67.48" width="8.12" height="7.31" fill="#98DC98"/><rect x="360.84" y="67.48" width="1.41" height="7.31" fill="#FF80FF"/>
<text class="yl" transform="translate(323.55 71.63) rotate(-43)" y="1.05">Germany</text>
<rect x="326.95" y="74.79" width="7.62" height="7.31" fill="#FFD731"/><rect x="334.57" y="74.79" width="27.68" height="7.31" fill="#98DC98"/>
<text class="yl" transform="translate(323.55 78.94) rotate(-43)" y="1.05">Greece</text>
<rect x="326.95" y="82.1" width="6.35" height="7.31" fill="#F1B87F"/><rect x="333.3" y="82.1" width="5.47" height="7.31" fill="#FFD731"/><rect x="338.78" y="82.1" width="23.47" height="7.31" fill="#98DC98"/>
<text class="yl" transform="translate(323.55 86.25) rotate(-43)" y="1.05">Hungary</text>
<rect x="326.95" y="89.41" width="17.65" height="7.31" fill="#F1B87F"/><rect x="344.6" y="89.41" width="3.53" height="7.31" fill="#FFD731"/><rect x="348.13" y="89.41" width="3.74" height="7.31" fill="#45A548"/><rect x="351.87" y="89.41" width="10.38" height="7.31" fill="#469FFF"/>
<text class="yl" transform="translate(323.55 93.56) rotate(-43)" y="1.05">Iceland</text>
<rect x="326.95" y="96.72" width="8.47" height="7.31" fill="#FF7A48"/><rect x="335.42" y="96.72" width="3.35" height="7.31" fill="#FFD731"/><rect x="338.78" y="96.72" width="2.19" height="7.31" fill="#FFF0AE"/><rect x="340.96" y="96.72" width="1.87" height="7.31" fill="#45A548"/><rect x="342.84" y="96.72" width="5.65" height="7.31" fill="#98DC98"/><rect x="348.48" y="96.72" width="6" height="7.31" fill="#469FFF"/><rect x="354.48" y="96.72" width="1.06" height="7.31" fill="#B5D8F8"/><rect x="355.54" y="96.72" width="6.71" height="7.31" fill="#FF80FF"/>
<text class="yl" transform="translate(323.55 100.88) rotate(-43)" y="1.05">Ireland</text>
<rect x="326.95" y="104.03" width="8.82" height="7.31" fill="#FF7A48"/><rect x="335.78" y="104.03" width="5.19" height="7.31" fill="#F1B87F"/><rect x="340.96" y="104.03" width="3.64" height="7.31" fill="#FFD731"/><rect x="344.6" y="104.03" width="15.88" height="7.31" fill="#98DC98"/><rect x="360.49" y="104.03" width="1.76" height="7.31" fill="#FF80FF"/>
<text class="yl" transform="translate(323.55 108.19) rotate(-43)" y="1.05">Italy</text>
<rect x="326.95" y="111.34" width="11.83" height="7.31" fill="#FF7A48"/><rect x="338.78" y="111.34" width="9.35" height="7.31" fill="#F1B87F"/><rect x="348.13" y="111.34" width="7.41" height="7.31" fill="#FFD731"/><rect x="355.54" y="111.34" width="1.76" height="7.31" fill="#45A548"/><rect x="357.31" y="111.34" width="1.41" height="7.31" fill="#469FFF"/><rect x="358.72" y="111.34" width="1.94" height="7.31" fill="#BF7FCB"/><rect x="360.66" y="111.34" width="1.59" height="7.31" fill="#FF80FF"/>
<text class="yl" transform="translate(323.55 115.49) rotate(-43)" y="1.05">Japan</text>
<rect x="326.95" y="118.65" width="2.72" height="7.31" fill="#FF7A48"/><rect x="329.67" y="118.65" width="1.87" height="7.31" fill="#F1B87F"/><rect x="331.54" y="118.65" width="12" height="7.31" fill="#FFD731"/><rect x="343.54" y="118.65" width="7.41" height="7.31" fill="#45A548"/><rect x="350.95" y="118.65" width="2.37" height="7.31" fill="#469FFF"/><rect x="353.32" y="118.65" width="3.99" height="7.31" fill="#B5D8F8"/><rect x="357.31" y="118.65" width="4.94" height="7.31" fill="#FF80FF"/>
<text class="yl" transform="translate(323.55 122.8) rotate(-43)" y="1.05">Luxembourg</text>
<rect x="326.95" y="125.96" width="6.35" height="7.31" fill="#FF7A48"/><rect x="333.3" y="125.96" width="3.11" height="7.31" fill="#F1B87F"/><rect x="336.41" y="125.96" width="4.17" height="7.31" fill="#FFD731"/><rect x="340.58" y="125.96" width="4.94" height="7.31" fill="#FFF0AE"/><rect x="345.52" y="125.96" width="6.85" height="7.31" fill="#45A548"/><rect x="352.37" y="125.96" width="1.76" height="7.31" fill="#98DC98"/><rect x="354.13" y="125.96" width="1.94" height="7.31" fill="#469FFF"/><rect x="356.07" y="125.96" width="2.15" height="7.31" fill="#B5D8F8"/><rect x="358.23" y="125.96" width="4.02" height="7.31" fill="#FF80FF"/>
<text class="yl" transform="translate(323.55 130.11) rotate(-43)" y="1.05">Netherlands</text>
<rect x="326.95" y="133.27" width="3.53" height="7.31" fill="#F1B87F"/><rect x="330.48" y="133.27" width="9.53" height="7.31" fill="#FFD731"/><rect x="340.01" y="133.27" width="12.71" height="7.31" fill="#45A548"/><rect x="352.72" y="133.27" width="2.82" height="7.31" fill="#469FFF"/><rect x="355.54" y="133.27" width="3.88" height="7.31" fill="#B5D8F8"/><rect x="359.43" y="133.27" width="2.82" height="7.31" fill="#FF80FF"/>
<text class="yl" transform="translate(323.55 137.42) rotate(-43)" y="1.05">New Zealand</text>
<rect x="326.95" y="140.58" width="6.35" height="7.31" fill="#FF7A48"/><rect x="333.3" y="140.58" width="6.71" height="7.31" fill="#F1B87F"/><rect x="340.01" y="140.58" width="2.82" height="7.31" fill="#FFD731"/><rect x="342.84" y="140.58" width="13.59" height="7.31" fill="#FFF0AE"/><rect x="356.43" y="140.58" width="3.71" height="7.31" fill="#45A548"/><rect x="360.13" y="140.58" width="2.12" height="7.31" fill="#FF80FF"/>
<text class="yl" transform="translate(323.55 144.73) rotate(-43)" y="1.05">Norway</text>
<rect x="326.95" y="147.89" width="2.72" height="7.31" fill="#F1B87F"/><rect x="329.67" y="147.89" width="5.75" height="7.31" fill="#FFD731"/><rect x="335.42" y="147.89" width="26.83" height="7.31" fill="#98DC98"/>
<text class="yl" transform="translate(323.55 152.04) rotate(-43)" y="1.05">Poland</text>
<rect x="326.95" y="155.2" width="5.82" height="7.31" fill="#FFD731"/><rect x="332.77" y="155.2" width="29.48" height="7.31" fill="#98DC98"/>
<text class="yl" transform="translate(323.55 159.35) rotate(-43)" y="1.05">Portugal</text>
<rect x="326.95" y="162.51" width="2.12" height="7.31" fill="#F1B87F"/><rect x="329.07" y="162.51" width="3.71" height="7.31" fill="#FFD731"/><rect x="332.77" y="162.51" width="29.48" height="7.31" fill="#98DC98"/>
<text class="yl" transform="translate(323.55 166.66) rotate(-43)" y="1.05">Slovak Republic</text>
<rect x="326.95" y="169.82" width="5.29" height="7.31" fill="#F1B87F"/><rect x="332.25" y="169.82" width="4.94" height="7.31" fill="#FFD731"/><rect x="337.19" y="169.82" width="25.06" height="7.31" fill="#98DC98"/>
<text class="yl" transform="translate(323.55 173.97) rotate(-43)" y="1.05">Slovenia</text>
<rect x="326.95" y="177.13" width="2.12" height="7.31" fill="#FF7A48"/><rect x="329.07" y="177.13" width="9.71" height="7.31" fill="#F1B87F"/><rect x="338.78" y="177.13" width="8.54" height="7.31" fill="#FFD731"/><rect x="347.32" y="177.13" width="1.87" height="7.31" fill="#FFF0AE"/><rect x="349.19" y="177.13" width="3.53" height="7.31" fill="#45A548"/><rect x="352.72" y="177.13" width="8.12" height="7.31" fill="#469FFF"/><rect x="360.84" y="177.13" width="1.41" height="7.31" fill="#FF80FF"/>
<text class="yl" transform="translate(323.55 181.28) rotate(-43)" y="1.05">South Korea</text>
<rect x="326.95" y="184.44" width="9.46" height="7.31" fill="#F1B87F"/><rect x="336.41" y="184.44" width="6.07" height="7.31" fill="#FFD731"/><rect x="342.48" y="184.44" width="18.36" height="7.31" fill="#98DC98"/><rect x="360.84" y="184.44" width="1.41" height="7.31" fill="#FF80FF"/>
<text class="yl" transform="translate(323.55 188.59) rotate(-43)" y="1.05">Spain</text>
<rect x="326.95" y="191.75" width="9.46" height="7.31" fill="#FF7A48"/><rect x="336.41" y="191.75" width="3.07" height="7.31" fill="#F1B87F"/><rect x="339.48" y="191.75" width="3.35" height="7.31" fill="#FFD731"/><rect x="342.84" y="191.75" width="2.68" height="7.31" fill="#FFF0AE"/><rect x="345.52" y="191.75" width="4.55" height="7.31" fill="#45A548"/><rect x="350.07" y="191.75" width="2.65" height="7.31" fill="#98DC98"/><rect x="352.72" y="191.75" width="1.76" height="7.31" fill="#469FFF"/><rect x="354.48" y="191.75" width="2.82" height="7.31" fill="#B5D8F8"/><rect x="357.31" y="191.75" width="4.94" height="7.31" fill="#FF80FF"/>
<text class="yl" transform="translate(323.55 195.91) rotate(-43)" y="1.05">Sweden</text>
<rect x="326.95" y="199.06" width="6.35" height="7.31" fill="#FF7A48"/><rect x="333.3" y="199.06" width="9.53" height="7.31" fill="#F1B87F"/><rect x="342.84" y="199.06" width="3.53" height="7.31" fill="#FFD731"/><rect x="346.37" y="199.06" width="7.41" height="7.31" fill="#45A548"/><rect x="353.78" y="199.06" width="1.76" height="7.31" fill="#469FFF"/><rect x="355.54" y="199.06" width="2.68" height="7.31" fill="#B5D8F8"/><rect x="358.23" y="199.06" width="4.02" height="7.31" fill="#FF80FF"/>
<text class="yl" transform="translate(323.55 203.22) rotate(-43)" y="1.05">Switzerland</text>
<rect x="326.95" y="206.37" width="6.35" height="7.31" fill="#FF7A48"/><rect x="333.3" y="206.37" width="7.41" height="7.31" fill="#F1B87F"/><rect x="340.72" y="206.37" width="4.59" height="7.31" fill="#FFD731"/><rect x="345.31" y="206.37" width="6" height="7.31" fill="#FFF0AE"/><rect x="351.31" y="206.37" width="3.53" height="7.31" fill="#45A548"/><rect x="354.84" y="206.37" width="2.29" height="7.31" fill="#469FFF"/><rect x="357.13" y="206.37" width="0.88" height="7.31" fill="#B5D8F8"/><rect x="358.01" y="206.37" width="4.24" height="7.31" fill="#FF80FF"/>
<text class="yl" transform="translate(323.55 210.52) rotate(-43)" y="1.05">United Kingdom</text>
<rect x="326.95" y="213.68" width="24.36" height="7.31" fill="#FF7A48"/><rect x="351.31" y="213.68" width="1.24" height="7.31" fill="#F1B87F"/><rect x="352.54" y="213.68" width="2.65" height="7.31" fill="#FFD731"/><rect x="355.19" y="213.68" width="2.82" height="7.31" fill="#FFF0AE"/><rect x="358.01" y="213.68" width="1.41" height="7.31" fill="#469FFF"/><rect x="359.43" y="213.68" width="2.82" height="7.31" fill="#FF80FF"/>
<text class="yl" transform="translate(323.55 217.83) rotate(-43)" y="1.05">United States</text>
<rect x="326.95" y="220.99" width="15.53" height="7.31" fill="#FF7A48"/><rect x="342.48" y="220.99" width="3.88" height="7.31" fill="#F1B87F"/><rect x="346.37" y="220.99" width="3.53" height="7.31" fill="#FFD731"/><rect x="349.9" y="220.99" width="3.18" height="7.31" fill="#FFF0AE"/><rect x="353.07" y="220.99" width="2.12" height="7.31" fill="#45A548"/><rect x="355.19" y="220.99" width="1.94" height="7.31" fill="#98DC98"/><rect x="357.13" y="220.99" width="1.45" height="7.31" fill="#469FFF"/><rect x="358.58" y="220.99" width="0.85" height="7.31" fill="#B5D8F8"/><rect x="359.43" y="220.99" width="2.82" height="7.31" fill="#FF80FF"/>
<text class="yl" transform="translate(323.55 225.14) rotate(-43)" y="1.05">All members</text>
<path d="M326.65 9V228.55" fill="none" stroke="#222" stroke-width="0.7"/><path d="M326.3 228.3H362.25" fill="none" stroke="#223" stroke-width="0.5"/>
<text class="xt" x="326.55" y="232.4">0</text><text class="xt" x="333.61" y="232.4">20</text><text class="xt" x="340.67" y="232.4">40</text><text class="xt" x="347.73" y="232.4">60</text><text class="xt" x="354.79" y="232.4">80</text><text class="xt" x="361.85" y="232.4">100</text>
<path d="M326.95 228.3v1.3M334.01 228.3v1.3M341.07 228.3v1.3M348.13 228.3v1.3M355.19 228.3v1.3M362.25 228.3v1.3M326.95 12.65h-1.3M326.95 19.96h-1.3M326.95 27.27h-1.3M326.95 34.58h-1.3M326.95 41.89h-1.3M326.95 49.2h-1.3M326.95 56.52h-1.3M326.95 63.82h-1.3M326.95 71.13h-1.3M326.95 78.44h-1.3M326.95 85.75h-1.3M326.95 93.06h-1.3M326.95 100.38h-1.3M326.95 107.68h-1.3M326.95 114.99h-1.3M326.95 122.3h-1.3M326.95 129.62h-1.3M326.95 136.93h-1.3M326.95 144.23h-1.3M326.95 151.54h-1.3M326.95 158.85h-1.3M326.95 166.16h-1.3M326.95 173.47h-1.3M326.95 180.78h-1.3M326.95 188.09h-1.3M326.95 195.41h-1.3M326.95 202.72h-1.3M326.95 210.02h-1.3M326.95 217.33h-1.3M326.95 224.64h-1.3" stroke="#222" stroke-width="0.25" opacity="0.6"/>
</g>
<g>
<text class="ti" x="404.77" y="6.5">2017</text>
<rect x="387.62" y="9" width="8.37" height="7.31" fill="#F1B87F"/><rect x="395.99" y="9" width="8.22" height="7.31" fill="#FFD731"/><rect x="404.21" y="9" width="9.07" height="7.31" fill="#FFF0AE"/><rect x="413.28" y="9" width="1.87" height="7.31" fill="#469FFF"/><rect x="415.15" y="9" width="1.76" height="7.31" fill="#B5D8F8"/><rect x="416.92" y="9" width="4.59" height="7.31" fill="#BF7FCB"/><rect x="421.51" y="9" width="1.41" height="7.31" fill="#FF80FF"/>
<text class="yl" transform="translate(384.22 13.15) rotate(-43)" y="1.05">Australia</text>
<rect x="387.62" y="16.31" width="16.59" height="7.31" fill="#F1B87F"/><rect x="404.21" y="16.31" width="2.33" height="7.31" fill="#FFD731"/><rect x="406.54" y="16.31" width="13.91" height="7.31" fill="#98DC98"/><rect x="420.45" y="16.31" width="2.47" height="7.31" fill="#FF80FF"/>
<text class="yl" transform="translate(384.22 20.46) rotate(-43)" y="1.05">Austria</text>
<rect x="387.62" y="23.62" width="6.18" height="7.31" fill="#FF7A48"/><rect x="393.8" y="23.62" width="3" height="7.31" fill="#F1B87F"/><rect x="396.8" y="23.62" width="4.94" height="7.31" fill="#FFD731"/><rect x="401.74" y="23.62" width="5.15" height="7.31" fill="#45A548"/><rect x="406.89" y="23.62" width="11.79" height="7.31" fill="#98DC98"/><rect x="418.68" y="23.62" width="1.41" height="7.31" fill="#469FFF"/><rect x="420.1" y="23.62" width="2.82" height="7.31" fill="#FF80FF"/>
<text class="yl" transform="translate(384.22 27.77) rotate(-43)" y="1.05">Belgium</text>
<rect x="387.62" y="30.93" width="13.41" height="7.31" fill="#FF7A48"/><rect x="401.03" y="30.93" width="5.86" height="7.31" fill="#F1B87F"/><rect x="406.89" y="30.93" width="3.32" height="7.31" fill="#FFD731"/><rect x="410.21" y="30.93" width="4.94" height="7.31" fill="#FFF0AE"/><rect x="415.15" y="30.93" width="1.76" height="7.31" fill="#45A548"/><rect x="416.92" y="30.93" width="3.53" height="7.31" fill="#469FFF"/><rect x="420.45" y="30.93" width="2.47" height="7.31" fill="#FF80FF"/>
<text class="yl" transform="translate(384.22 35.09) rotate(-43)" y="1.05">Canada</text>
<rect x="387.62" y="38.24" width="6.53" height="7.31" fill="#FFD731"/><rect x="394.15" y="38.24" width="28.77" height="7.31" fill="#98DC98"/>
<text class="yl" transform="translate(384.22 42.39) rotate(-43)" y="1.05">Czech Republic</text>
<rect x="387.62" y="45.55" width="5.65" height="7.31" fill="#F1B87F"/><rect x="393.27" y="45.55" width="1.76" height="7.31" fill="#FFD731"/><rect x="395.03" y="45.55" width="15.53" height="7.31" fill="#45A548"/><rect x="410.56" y="45.55" width="7.24" height="7.31" fill="#98DC98"/><rect x="417.8" y="45.55" width="0.88" height="7.31" fill="#469FFF"/><rect x="418.68" y="45.55" width="1.41" height="7.31" fill="#B5D8F8"/><rect x="420.1" y="45.55" width="2.82" height="7.31" fill="#FF80FF"/>
<text class="yl" transform="translate(384.22 49.7) rotate(-43)" y="1.05">Denmark</text>
<rect x="387.62" y="52.86" width="5.65" height="7.31" fill="#F1B87F"/><rect x="393.27" y="52.86" width="2.72" height="7.31" fill="#FFD731"/><rect x="395.99" y="52.86" width="9.99" height="7.31" fill="#45A548"/><rect x="405.98" y="52.86" width="10.94" height="7.31" fill="#98DC98"/><rect x="416.92" y="52.86" width="0.88" height="7.31" fill="#B5D8F8"/><rect x="417.8" y="52.86" width="5.12" height="7.31" fill="#FF80FF"/>
<text class="yl" transform="translate(384.22 57.02) rotate(-43)" y="1.05">Finland</text>
<rect x="387.62" y="60.17" width="24.36" height="7.31" fill="#FF7A48"/><rect x="411.98" y="60.17" width="1.76" height="7.31" fill="#F1B87F"/><rect x="413.74" y="60.17" width="1.41" height="7.31" fill="#FFF0AE"/><rect x="415.15" y="60.17" width="6.71" height="7.31" fill="#98DC98"/><rect x="421.86" y="60.17" width="1.06" height="7.31" fill="#FF80FF"/>
<text class="yl" transform="translate(384.22 64.32) rotate(-43)" y="1.05">France</text>
<rect x="387.62" y="67.48" width="12.36" height="7.31" fill="#FF7A48"/><rect x="399.98" y="67.48" width="3.18" height="7.31" fill="#F1B87F"/><rect x="403.15" y="67.48" width="3.74" height="7.31" fill="#FFD731"/><rect x="406.89" y="67.48" width="5.79" height="7.31" fill="#FFF0AE"/><rect x="412.68" y="67.48" width="1.41" height="7.31" fill="#45A548"/><rect x="414.1" y="67.48" width="7.41" height="7.31" fill="#98DC98"/><rect x="421.51" y="67.48" width="1.41" height="7.31" fill="#FF80FF"/>
<text class="yl" transform="translate(384.22 71.63) rotate(-43)" y="1.05">Germany</text>
<rect x="387.62" y="74.79" width="4.59" height="7.31" fill="#F1B87F"/><rect x="392.21" y="74.79" width="4.13" height="7.31" fill="#FFD731"/><rect x="396.34" y="74.79" width="26.58" height="7.31" fill="#98DC98"/>
<text class="yl" transform="translate(384.22 78.94) rotate(-43)" y="1.05">Greece</text>
<rect x="387.62" y="82.1" width="3.88" height="7.31" fill="#F1B87F"/><rect x="391.5" y="82.1" width="5.29" height="7.31" fill="#FFD731"/><rect x="396.8" y="82.1" width="26.12" height="7.31" fill="#98DC98"/>
<text class="yl" transform="translate(384.22 86.25) rotate(-43)" y="1.05">Hungary</text>
<rect x="387.62" y="89.41" width="14.72" height="7.31" fill="#F1B87F"/><rect x="402.34" y="89.41" width="2.75" height="7.31" fill="#FFD731"/><rect x="405.09" y="89.41" width="5.12" height="7.31" fill="#45A548"/><rect x="410.21" y="89.41" width="12.71" height="7.31" fill="#469FFF"/>
<text class="yl" transform="translate(384.22 93.56) rotate(-43)" y="1.05">Iceland</text>
<rect x="387.62" y="96.72" width="8.37" height="7.31" fill="#FF7A48"/><rect x="395.99" y="96.72" width="3.64" height="7.31" fill="#F1B87F"/><rect x="399.62" y="96.72" width="2.12" height="7.31" fill="#FFD731"/><rect x="401.74" y="96.72" width="1.06" height="7.31" fill="#FFF0AE"/><rect x="402.8" y="96.72" width="1.06" height="7.31" fill="#45A548"/><rect x="403.86" y="96.72" width="7.59" height="7.31" fill="#98DC98"/><rect x="411.45" y="96.72" width="3.71" height="7.31" fill="#469FFF"/><rect x="415.15" y="96.72" width="2.65" height="7.31" fill="#B5D8F8"/><rect x="417.8" y="96.72" width="5.12" height="7.31" fill="#FF80FF"/>
<text class="yl" transform="translate(384.22 100.88) rotate(-43)" y="1.05">Ireland</text>
<rect x="387.62" y="104.03" width="6.53" height="7.31" fill="#FF7A48"/><rect x="394.15" y="104.03" width="4.41" height="7.31" fill="#F1B87F"/><rect x="398.56" y="104.03" width="3.78" height="7.31" fill="#FFD731"/><rect x="402.34" y="104.03" width="1.87" height="7.31" fill="#FFF0AE"/><rect x="404.21" y="104.03" width="15.43" height="7.31" fill="#98DC98"/><rect x="419.64" y="104.03" width="3.28" height="7.31" fill="#FF80FF"/>
<text class="yl" transform="translate(384.22 108.19) rotate(-43)" y="1.05">Italy</text>
<rect x="387.62" y="111.34" width="17.47" height="7.31" fill="#FF7A48"/><rect x="405.09" y="111.34" width="10.06" height="7.31" fill="#F1B87F"/><rect x="415.15" y="111.34" width="2.65" height="7.31" fill="#FFD731"/><rect x="417.8" y="111.34" width="1.41" height="7.31" fill="#45A548"/><rect x="419.21" y="111.34" width="1.24" height="7.31" fill="#469FFF"/><rect x="420.45" y="111.34" width="2.47" height="7.31" fill="#FF80FF"/>
<text class="yl" transform="translate(384.22 115.49) rotate(-43)" y="1.05">Japan</text>
<rect x="387.62" y="118.65" width="4.59" height="7.31" fill="#FF7A48"/><rect x="392.21" y="118.65" width="12" height="7.31" fill="#FFD731"/><rect x="404.21" y="118.65" width="6.35" height="7.31" fill="#45A548"/><rect x="410.56" y="118.65" width="1.76" height="7.31" fill="#98DC98"/><rect x="412.33" y="118.65" width="2.82" height="7.31" fill="#469FFF"/><rect x="415.15" y="118.65" width="4.13" height="7.31" fill="#B5D8F8"/><rect x="419.28" y="118.65" width="3.64" height="7.31" fill="#FF80FF"/>
<text class="yl" transform="translate(384.22 122.8) rotate(-43)" y="1.05">Luxembourg</text>
<rect x="387.62" y="125.96" width="6.18" height="7.31" fill="#FF7A48"/><rect x="393.8" y="125.96" width="3" height="7.31" fill="#F1B87F"/><rect x="396.8" y="125.96" width="1.76" height="7.31" fill="#FFD731"/><rect x="398.56" y="125.96" width="6.53" height="7.31" fill="#FFF0AE"/><rect x="405.09" y="125.96" width="6.88" height="7.31" fill="#45A548"/><rect x="411.98" y="125.96" width="3.18" height="7.31" fill="#98DC98"/><rect x="415.15" y="125.96" width="2.29" height="7.31" fill="#469FFF"/><rect x="417.45" y="125.96" width="1.76" height="7.31" fill="#B5D8F8"/><rect x="419.21" y="125.96" width="3.71" height="7.31" fill="#FF80FF"/>
<text class="yl" transform="translate(384.22 130.11) rotate(-43)" y="1.05">Netherlands</text>
<rect x="387.62" y="133.27" width="9.18" height="7.31" fill="#F1B87F"/><rect x="396.8" y="133.27" width="6.35" height="7.31" fill="#FFD731"/><rect x="403.15" y="133.27" width="12.36" height="7.31" fill="#45A548"/><rect x="415.51" y="133.27" width="3.18" height="7.31" fill="#469FFF"/><rect x="418.68" y="133.27" width="1.76" height="7.31" fill="#B5D8F8"/><rect x="420.45" y="133.27" width="2.47" height="7.31" fill="#FF80FF"/>
<text class="yl" transform="translate(384.22 137.42) rotate(-43)" y="1.05">New Zealand</text>
<rect x="387.62" y="140.58" width="5.65" height="7.31" fill="#FF7A48"/><rect x="393.27" y="140.58" width="8.12" height="7.31" fill="#F1B87F"/><rect x="401.39" y="140.58" width="2.82" height="7.31" fill="#FFD731"/><rect x="404.21" y="140.58" width="13.24" height="7.31" fill="#FFF0AE"/><rect x="417.45" y="140.58" width="2.65" height="7.31" fill="#45A548"/><rect x="420.1" y="140.58" width="2.82" height="7.31" fill="#FF80FF"/>
<text class="yl" transform="translate(384.22 144.73) rotate(-43)" y="1.05">Norway</text>
<rect x="387.62" y="147.89" width="4.59" height="7.31" fill="#FFD731"/><rect x="392.21" y="147.89" width="29.3" height="7.31" fill="#98DC98"/><rect x="421.51" y="147.89" width="1.41" height="7.31" fill="#FF80FF"/>
<text class="yl" transform="translate(384.22 152.04) rotate(-43)" y="1.05">Poland</text>
<rect x="387.62" y="155.2" width="8.37" height="7.31" fill="#F1B87F"/><rect x="395.99" y="155.2" width="3.28" height="7.31" fill="#FFD731"/><rect x="399.27" y="155.2" width="22.24" height="7.31" fill="#98DC98"/><rect x="421.51" y="155.2" width="1.41" height="7.31" fill="#FF80FF"/>
<text class="yl" transform="translate(384.22 159.35) rotate(-43)" y="1.05">Portugal</text>
<rect x="387.62" y="162.51" width="5.12" height="7.31" fill="#FFD731"/><rect x="392.74" y="162.51" width="27.71" height="7.31" fill="#98DC98"/><rect x="420.45" y="162.51" width="2.47" height="7.31" fill="#469FFF"/>
<text class="yl" transform="translate(384.22 166.66) rotate(-43)" y="1.05">Slovak Republic</text>
<rect x="387.62" y="169.82" width="3.88" height="7.31" fill="#F1B87F"/><rect x="391.5" y="169.82" width="3.53" height="7.31" fill="#FFD731"/><rect x="395.03" y="169.82" width="27.89" height="7.31" fill="#98DC98"/>
<text class="yl" transform="translate(384.22 173.97) rotate(-43)" y="1.05">Slovenia</text>
<rect x="387.62" y="177.13" width="9.18" height="7.31" fill="#F1B87F"/><rect x="396.8" y="177.13" width="10.1" height="7.31" fill="#FFD731"/><rect x="406.89" y="177.13" width="2.26" height="7.31" fill="#FFF0AE"/><rect x="409.15" y="177.13" width="2.82" height="7.31" fill="#45A548"/><rect x="411.98" y="177.13" width="7.66" height="7.31" fill="#469FFF"/><rect x="419.64" y="177.13" width="3.28" height="7.31" fill="#FF80FF"/>
<text class="yl" transform="translate(384.22 181.28) rotate(-43)" y="1.05">South Korea</text>
<rect x="387.62" y="184.44" width="10.94" height="7.31" fill="#F1B87F"/><rect x="398.56" y="184.44" width="3.78" height="7.31" fill="#FFD731"/><rect x="402.34" y="184.44" width="18.11" height="7.31" fill="#98DC98"/><rect x="420.45" y="184.44" width="2.47" height="7.31" fill="#FF80FF"/>
<text class="yl" transform="translate(384.22 188.59) rotate(-43)" y="1.05">Spain</text>
<rect x="387.62" y="191.75" width="8.72" height="7.31" fill="#FF7A48"/><rect x="396.34" y="191.75" width="3.64" height="7.31" fill="#F1B87F"/><rect x="399.98" y="191.75" width="3.18" height="7.31" fill="#FFD731"/><rect x="403.15" y="191.75" width="3.74" height="7.31" fill="#FFF0AE"/><rect x="406.89" y="191.75" width="5.79" height="7.31" fill="#45A548"/><rect x="412.68" y="191.75" width="2.47" height="7.31" fill="#98DC98"/><rect x="415.15" y="191.75" width="2.29" height="7.31" fill="#469FFF"/><rect x="417.45" y="191.75" width="1.24" height="7.31" fill="#B5D8F8"/><rect x="418.68" y="191.75" width="4.24" height="7.31" fill="#FF80FF"/>
<text class="yl" transform="translate(384.22 195.91) rotate(-43)" y="1.05">Sweden</text>
<rect x="387.62" y="199.06" width="6.53" height="7.31" fill="#FF7A48"/><rect x="394.15" y="199.06" width="10.06" height="7.31" fill="#F1B87F"/><rect x="404.21" y="199.06" width="4.13" height="7.31" fill="#FFD731"/><rect x="408.34" y="199.06" width="4.34" height="7.31" fill="#45A548"/><rect x="412.68" y="199.06" width="2.47" height="7.31" fill="#469FFF"/><rect x="415.15" y="199.06" width="2.65" height="7.31" fill="#B5D8F8"/><rect x="417.8" y="199.06" width="5.12" height="7.31" fill="#FF80FF"/>
<text class="yl" transform="translate(384.22 203.22) rotate(-43)" y="1.05">Switzerland</text>
<rect x="387.62" y="206.37" width="9.88" height="7.31" fill="#FF7A48"/><rect x="397.5" y="206.37" width="4.94" height="7.31" fill="#F1B87F"/><rect x="402.45" y="206.37" width="2.72" height="7.31" fill="#FFD731"/><rect x="405.16" y="206.37" width="5.4" height="7.31" fill="#FFF0AE"/><rect x="410.56" y="206.37" width="4.59" height="7.31" fill="#45A548"/><rect x="415.15" y="206.37" width="2.82" height="7.31" fill="#469FFF"/><rect x="417.98" y="206.37" width="0.88" height="7.31" fill="#B5D8F8"/><rect x="418.86" y="206.37" width="4.06" height="7.31" fill="#FF80FF"/>
<text class="yl" transform="translate(384.22 210.52) rotate(-43)" y="1.05">United Kingdom</text>
<rect x="387.62" y="213.68" width="17.54" height="7.31" fill="#FF7A48"/><rect x="405.16" y="213.68" width="3.64" height="7.31" fill="#F1B87F"/><rect x="408.8" y="213.68" width="4.06" height="7.31" fill="#FFD731"/><rect x="412.86" y="213.68" width="2.29" height="7.31" fill="#FFF0AE"/><rect x="415.15" y="213.68" width="3.74" height="7.31" fill="#469FFF"/><rect x="418.9" y="213.68" width="4.02" height="7.31" fill="#FF80FF"/>
<text class="yl" transform="translate(384.22 217.83) rotate(-43)" y="1.05">United States</text>
<rect x="387.62" y="220.99" width="12" height="7.31" fill="#FF7A48"/><rect x="399.62" y="220.99" width="5.19" height="7.31" fill="#F1B87F"/><rect x="404.81" y="220.99" width="3.99" height="7.31" fill="#FFD731"/><rect x="408.8" y="220.99" width="3.71" height="7.31" fill="#FFF0AE"/><rect x="412.51" y="220.99" width="2.65" height="7.31" fill="#45A548"/><rect x="415.15" y="220.99" width="2.47" height="7.31" fill="#98DC98"/><rect x="417.62" y="220.99" width="1.62" height="7.31" fill="#469FFF"/><rect x="419.25" y="220.99" width="3.67" height="7.31" fill="#FF80FF"/>
<text class="yl" transform="translate(384.22 225.14) rotate(-43)" y="1.05">All members</text>
<path d="M387.32 9V228.55" fill="none" stroke="#222" stroke-width="0.7"/><path d="M386.97 228.3H422.92" fill="none" stroke="#223" stroke-width="0.5"/>
<text class="xt" x="387.22" y="232.4">0</text><text class="xt" x="394.28" y="232.4">20</text><text class="xt" x="401.34" y="232.4">40</text><text class="xt" x="408.4" y="232.4">60</text><text class="xt" x="415.46" y="232.4">80</text><text class="xt" x="422.52" y="232.4">100</text>
<path d="M387.62 228.3v1.3M394.68 228.3v1.3M401.74 228.3v1.3M408.8 228.3v1.3M415.86 228.3v1.3M422.92 228.3v1.3M387.62 12.65h-1.3M387.62 19.96h-1.3M387.62 27.27h-1.3M387.62 34.58h-1.3M387.62 41.89h-1.3M387.62 49.2h-1.3M387.62 56.52h-1.3M387.62 63.82h-1.3M387.62 71.13h-1.3M387.62 78.44h-1.3M387.62 85.75h-1.3M387.62 93.06h-1.3M387.62 100.38h-1.3M387.62 107.68h-1.3M387.62 114.99h-1.3M387.62 122.3h-1.3M387.62 129.62h-1.3M387.62 136.93h-1.3M387.62 144.23h-1.3M387.62 151.54h-1.3M387.62 158.85h-1.3M387.62 166.16h-1.3M387.62 173.47h-1.3M387.62 180.78h-1.3M387.62 188.09h-1.3M387.62 195.41h-1.3M387.62 202.72h-1.3M387.62 210.02h-1.3M387.62 217.33h-1.3M387.62 224.64h-1.3" stroke="#222" stroke-width="0.25" opacity="0.6"/>
</g>
<g>
<text class="ti" x="465.44" y="6.5">2018</text>
<rect x="448.29" y="9" width="9.88" height="7.31" fill="#F1B87F"/><rect x="458.17" y="9" width="7.24" height="7.31" fill="#FFD731"/><rect x="465.41" y="9" width="4.41" height="7.31" fill="#FFF0AE"/><rect x="469.82" y="9" width="2.47" height="7.31" fill="#45A548"/><rect x="472.29" y="9" width="1.76" height="7.31" fill="#469FFF"/><rect x="474.06" y="9" width="4.94" height="7.31" fill="#BF7FCB"/><rect x="479" y="9" width="4.59" height="7.31" fill="#FF80FF"/>
<text class="yl" transform="translate(444.89 13.15) rotate(-43)" y="1.05">Australia</text>
<rect x="448.29" y="16.31" width="18.57" height="7.31" fill="#F1B87F"/><rect x="466.86" y="16.31" width="2.97" height="7.31" fill="#FFD731"/><rect x="469.82" y="16.31" width="8.3" height="7.31" fill="#98DC98"/><rect x="478.12" y="16.31" width="1.84" height="7.31" fill="#BF7FCB"/><rect x="479.95" y="16.31" width="3.64" height="7.31" fill="#FF80FF"/>
<text class="yl" transform="translate(444.89 20.46) rotate(-43)" y="1.05">Austria</text>
<rect x="448.29" y="23.62" width="7.62" height="7.31" fill="#FF7A48"/><rect x="455.91" y="23.62" width="7.55" height="7.31" fill="#F1B87F"/><rect x="463.47" y="23.62" width="3.74" height="7.31" fill="#FFD731"/><rect x="467.21" y="23.62" width="4.55" height="7.31" fill="#45A548"/><rect x="471.76" y="23.62" width="7.24" height="7.31" fill="#98DC98"/><rect x="479" y="23.62" width="1.24" height="7.31" fill="#469FFF"/><rect x="480.24" y="23.62" width="3.35" height="7.31" fill="#FF80FF"/>
<text class="yl" transform="translate(444.89 27.77) rotate(-43)" y="1.05">Belgium</text>
<rect x="448.29" y="30.93" width="12" height="7.31" fill="#FF7A48"/><rect x="460.29" y="30.93" width="7.77" height="7.31" fill="#F1B87F"/><rect x="468.06" y="30.93" width="4.24" height="7.31" fill="#FFD731"/><rect x="472.29" y="30.93" width="2.47" height="7.31" fill="#FFF0AE"/><rect x="474.77" y="30.93" width="1.41" height="7.31" fill="#45A548"/><rect x="476.18" y="30.93" width="3.78" height="7.31" fill="#469FFF"/><rect x="479.95" y="30.93" width="3.64" height="7.31" fill="#FF80FF"/>
<text class="yl" transform="translate(444.89 35.09) rotate(-43)" y="1.05">Canada</text>
<rect x="448.29" y="38.24" width="2.82" height="7.31" fill="#F1B87F"/><rect x="451.11" y="38.24" width="6" height="7.31" fill="#FFD731"/><rect x="457.12" y="38.24" width="26.48" height="7.31" fill="#98DC98"/>
<text class="yl" transform="translate(444.89 42.39) rotate(-43)" y="1.05">Czech Republic</text>
<rect x="448.29" y="45.55" width="5.82" height="7.31" fill="#FF7A48"/><rect x="454.11" y="45.55" width="3" height="7.31" fill="#F1B87F"/><rect x="457.12" y="45.55" width="2.82" height="7.31" fill="#FFD731"/><rect x="459.94" y="45.55" width="11.83" height="7.31" fill="#45A548"/><rect x="471.76" y="45.55" width="5.47" height="7.31" fill="#98DC98"/><rect x="477.24" y="45.55" width="1.24" height="7.31" fill="#469FFF"/><rect x="478.47" y="45.55" width="1.06" height="7.31" fill="#B5D8F8"/><rect x="479.53" y="45.55" width="4.06" height="7.31" fill="#FF80FF"/>
<text class="yl" transform="translate(444.89 49.7) rotate(-43)" y="1.05">Denmark</text>
<rect x="448.29" y="52.86" width="7.06" height="7.31" fill="#F1B87F"/><rect x="455.35" y="52.86" width="4.24" height="7.31" fill="#FFD731"/><rect x="459.59" y="52.86" width="8.47" height="7.31" fill="#45A548"/><rect x="468.06" y="52.86" width="8.12" height="7.31" fill="#98DC98"/><rect x="476.18" y="52.86" width="2.82" height="7.31" fill="#B5D8F8"/><rect x="479" y="52.86" width="4.59" height="7.31" fill="#FF80FF"/>
<text class="yl" transform="translate(444.89 57.02) rotate(-43)" y="1.05">Finland</text>
<rect x="448.29" y="60.17" width="21.53" height="7.31" fill="#FF7A48"/><rect x="469.82" y="60.17" width="6.35" height="7.31" fill="#F1B87F"/><rect x="476.18" y="60.17" width="1.94" height="7.31" fill="#FFF0AE"/><rect x="478.12" y="60.17" width="4.41" height="7.31" fill="#98DC98"/><rect x="482.53" y="60.17" width="1.06" height="7.31" fill="#FF80FF"/>
<text class="yl" transform="translate(444.89 64.32) rotate(-43)" y="1.05">France</text>
<rect x="448.29" y="67.48" width="12.53" height="7.31" fill="#FF7A48"/><rect x="460.82" y="67.48" width="7.24" height="7.31" fill="#F1B87F"/><rect x="468.06" y="67.48" width="4.59" height="7.31" fill="#FFD731"/><rect x="472.65" y="67.48" width="2.82" height="7.31" fill="#FFF0AE"/><rect x="475.47" y="67.48" width="1.24" height="7.31" fill="#45A548"/><rect x="476.71" y="67.48" width="5.82" height="7.31" fill="#98DC98"/><rect x="482.53" y="67.48" width="1.06" height="7.31" fill="#FF80FF"/>
<text class="yl" transform="translate(444.89 71.63) rotate(-43)" y="1.05">Germany</text>
<rect x="448.29" y="74.79" width="5.29" height="7.31" fill="#F1B87F"/><rect x="453.59" y="74.79" width="5.29" height="7.31" fill="#FFD731"/><rect x="458.88" y="74.79" width="24.71" height="7.31" fill="#98DC98"/>
<text class="yl" transform="translate(444.89 78.94) rotate(-43)" y="1.05">Greece</text>
<rect x="448.29" y="82.1" width="6.18" height="7.31" fill="#F1B87F"/><rect x="454.47" y="82.1" width="9" height="7.31" fill="#FFD731"/><rect x="463.47" y="82.1" width="17.3" height="7.31" fill="#98DC98"/><rect x="480.77" y="82.1" width="2.82" height="7.31" fill="#469FFF"/>
<text class="yl" transform="translate(444.89 86.25) rotate(-43)" y="1.05">Hungary</text>
<rect x="448.29" y="89.41" width="8.01" height="7.31" fill="#F1B87F"/><rect x="456.3" y="89.41" width="14.58" height="7.31" fill="#FFF0AE"/><rect x="470.88" y="89.41" width="7.24" height="7.31" fill="#469FFF"/><rect x="478.12" y="89.41" width="5.47" height="7.31" fill="#FF80FF"/>
<text class="yl" transform="translate(444.89 93.56) rotate(-43)" y="1.05">Iceland</text>
<rect x="448.29" y="96.72" width="8.82" height="7.31" fill="#FF7A48"/><rect x="457.12" y="96.72" width="2.47" height="7.31" fill="#F1B87F"/><rect x="459.59" y="96.72" width="3.07" height="7.31" fill="#FFD731"/><rect x="462.66" y="96.72" width="1.34" height="7.31" fill="#FFF0AE"/><rect x="464" y="96.72" width="1.41" height="7.31" fill="#45A548"/><rect x="465.41" y="96.72" width="5.12" height="7.31" fill="#98DC98"/><rect x="470.53" y="96.72" width="4.24" height="7.31" fill="#469FFF"/><rect x="474.77" y="96.72" width="2.47" height="7.31" fill="#B5D8F8"/><rect x="477.24" y="96.72" width="6.35" height="7.31" fill="#FF80FF"/>
<text class="yl" transform="translate(444.89 100.88) rotate(-43)" y="1.05">Ireland</text>
<rect x="448.29" y="104.03" width="7.62" height="7.31" fill="#FF7A48"/><rect x="455.91" y="104.03" width="6.74" height="7.31" fill="#F1B87F"/><rect x="462.66" y="104.03" width="2.75" height="7.31" fill="#FFD731"/><rect x="465.41" y="104.03" width="2.65" height="7.31" fill="#FFF0AE"/><rect x="468.06" y="104.03" width="12.71" height="7.31" fill="#98DC98"/><rect x="480.77" y="104.03" width="2.82" height="7.31" fill="#FF80FF"/>
<text class="yl" transform="translate(444.89 108.19) rotate(-43)" y="1.05">Italy</text>
<rect x="448.29" y="111.34" width="15.53" height="7.31" fill="#FF7A48"/><rect x="463.82" y="111.34" width="8.82" height="7.31" fill="#F1B87F"/><rect x="472.65" y="111.34" width="3.88" height="7.31" fill="#FFD731"/><rect x="476.53" y="111.34" width="1.94" height="7.31" fill="#45A548"/><rect x="478.47" y="111.34" width="1.41" height="7.31" fill="#469FFF"/><rect x="479.88" y="111.34" width="3.71" height="7.31" fill="#FF80FF"/>
<text class="yl" transform="translate(444.89 115.49) rotate(-43)" y="1.05">Japan</text>
<rect x="448.29" y="118.65" width="3.88" height="7.31" fill="#FF7A48"/><rect x="452.17" y="118.65" width="10.48" height="7.31" fill="#FFD731"/><rect x="462.66" y="118.65" width="9.11" height="7.31" fill="#45A548"/><rect x="471.76" y="118.65" width="3.71" height="7.31" fill="#469FFF"/><rect x="475.47" y="118.65" width="4.09" height="7.31" fill="#B5D8F8"/><rect x="479.57" y="118.65" width="4.02" height="7.31" fill="#FF80FF"/>
<text class="yl" transform="translate(444.89 122.8) rotate(-43)" y="1.05">Luxembourg</text>
<rect x="448.29" y="125.96" width="5.82" height="7.31" fill="#FF7A48"/><rect x="454.11" y="125.96" width="6.18" height="7.31" fill="#F1B87F"/><rect x="460.29" y="125.96" width="2.29" height="7.31" fill="#FFD731"/><rect x="462.59" y="125.96" width="6.42" height="7.31" fill="#FFF0AE"/><rect x="469.01" y="125.96" width="5.4" height="7.31" fill="#45A548"/><rect x="474.41" y="125.96" width="2.12" height="7.31" fill="#98DC98"/><rect x="476.53" y="125.96" width="2.47" height="7.31" fill="#469FFF"/><rect x="479" y="125.96" width="1.24" height="7.31" fill="#B5D8F8"/><rect x="480.24" y="125.96" width="3.35" height="7.31" fill="#FF80FF"/>
<text class="yl" transform="translate(444.89 130.11) rotate(-43)" y="1.05">Netherlands</text>
<rect x="448.29" y="133.27" width="4.59" height="7.31" fill="#F1B87F"/><rect x="452.88" y="133.27" width="8.82" height="7.31" fill="#FFD731"/><rect x="461.7" y="133.27" width="9.18" height="7.31" fill="#45A548"/><rect x="470.88" y="133.27" width="5.29" height="7.31" fill="#469FFF"/><rect x="476.18" y="133.27" width="2.82" height="7.31" fill="#B5D8F8"/><rect x="479" y="133.27" width="4.59" height="7.31" fill="#FF80FF"/>
<text class="yl" transform="translate(444.89 137.42) rotate(-43)" y="1.05">New Zealand</text>
<rect x="448.29" y="140.58" width="6.53" height="7.31" fill="#FF7A48"/><rect x="454.82" y="140.58" width="7.84" height="7.31" fill="#F1B87F"/><rect x="462.66" y="140.58" width="2.75" height="7.31" fill="#FFD731"/><rect x="465.41" y="140.58" width="11.83" height="7.31" fill="#FFF0AE"/><rect x="477.24" y="140.58" width="3.53" height="7.31" fill="#45A548"/><rect x="480.77" y="140.58" width="2.82" height="7.31" fill="#FF80FF"/>
<text class="yl" transform="translate(444.89 144.73) rotate(-43)" y="1.05">Norway</text>
<rect x="448.29" y="147.89" width="8.82" height="7.31" fill="#FFD731"/><rect x="457.12" y="147.89" width="26.48" height="7.31" fill="#98DC98"/>
<text class="yl" transform="translate(444.89 152.04) rotate(-43)" y="1.05">Poland</text>
<rect x="448.29" y="155.2" width="3.53" height="7.31" fill="#F1B87F"/><rect x="451.82" y="155.2" width="6.35" height="7.31" fill="#FFD731"/><rect x="458.17" y="155.2" width="22.59" height="7.31" fill="#98DC98"/><rect x="480.77" y="155.2" width="1.76" height="7.31" fill="#BF7FCB"/><rect x="482.53" y="155.2" width="1.06" height="7.31" fill="#FF80FF"/>
<text class="yl" transform="translate(444.89 159.35) rotate(-43)" y="1.05">Portugal</text>
<rect x="448.29" y="162.51" width="4.24" height="7.31" fill="#F1B87F"/><rect x="452.53" y="162.51" width="7.41" height="7.31" fill="#FFD731"/><rect x="459.94" y="162.51" width="23.65" height="7.31" fill="#98DC98"/>
<text class="yl" transform="translate(444.89 166.66) rotate(-43)" y="1.05">Slovak Republic</text>
<rect x="448.29" y="169.82" width="4.24" height="7.31" fill="#F1B87F"/><rect x="452.53" y="169.82" width="6.35" height="7.31" fill="#FFD731"/><rect x="458.88" y="169.82" width="24.71" height="7.31" fill="#98DC98"/>
<text class="yl" transform="translate(444.89 173.97) rotate(-43)" y="1.05">Slovenia</text>
<rect x="448.29" y="177.13" width="9.88" height="7.31" fill="#F1B87F"/><rect x="458.17" y="177.13" width="11.65" height="7.31" fill="#FFD731"/><rect x="469.82" y="177.13" width="1.94" height="7.31" fill="#FFF0AE"/><rect x="471.76" y="177.13" width="2.65" height="7.31" fill="#45A548"/><rect x="474.41" y="177.13" width="4.59" height="7.31" fill="#469FFF"/><rect x="479" y="177.13" width="4.59" height="7.31" fill="#FF80FF"/>
<text class="yl" transform="translate(444.89 181.28) rotate(-43)" y="1.05">South Korea</text>
<rect x="448.29" y="184.44" width="10.59" height="7.31" fill="#F1B87F"/><rect x="458.88" y="184.44" width="5.65" height="7.31" fill="#FFD731"/><rect x="464.53" y="184.44" width="16.24" height="7.31" fill="#98DC98"/><rect x="480.77" y="184.44" width="2.82" height="7.31" fill="#FF80FF"/>
<text class="yl" transform="translate(444.89 188.59) rotate(-43)" y="1.05">Spain</text>
<rect x="448.29" y="191.75" width="8.82" height="7.31" fill="#FF7A48"/><rect x="457.12" y="191.75" width="5.54" height="7.31" fill="#F1B87F"/><rect x="462.66" y="191.75" width="3.64" height="7.31" fill="#FFD731"/><rect x="466.29" y="191.75" width="1.24" height="7.31" fill="#FFF0AE"/><rect x="467.53" y="191.75" width="4.77" height="7.31" fill="#45A548"/><rect x="472.29" y="191.75" width="2.12" height="7.31" fill="#98DC98"/><rect x="474.41" y="191.75" width="2.12" height="7.31" fill="#469FFF"/><rect x="476.53" y="191.75" width="2.47" height="7.31" fill="#B5D8F8"/><rect x="479" y="191.75" width="4.59" height="7.31" fill="#FF80FF"/>
<text class="yl" transform="translate(444.89 195.91) rotate(-43)" y="1.05">Sweden</text>
<rect x="448.29" y="199.06" width="7.06" height="7.31" fill="#FF7A48"/><rect x="455.35" y="199.06" width="8.12" height="7.31" fill="#F1B87F"/><rect x="463.47" y="199.06" width="5.19" height="7.31" fill="#FFD731"/><rect x="468.66" y="199.06" width="3.99" height="7.31" fill="#45A548"/><rect x="472.65" y="199.06" width="2.12" height="7.31" fill="#469FFF"/><rect x="474.77" y="199.06" width="3" height="7.31" fill="#B5D8F8"/><rect x="477.77" y="199.06" width="5.82" height="7.31" fill="#FF80FF"/>
<text class="yl" transform="translate(444.89 203.22) rotate(-43)" y="1.05">Switzerland</text>
<rect x="448.29" y="206.37" width="9.71" height="7.31" fill="#FF7A48"/><rect x="458" y="206.37" width="7.24" height="7.31" fill="#F1B87F"/><rect x="465.23" y="206.37" width="3.35" height="7.31" fill="#FFD731"/><rect x="468.59" y="206.37" width="5.47" height="7.31" fill="#FFF0AE"/><rect x="474.06" y="206.37" width="4.06" height="7.31" fill="#45A548"/><rect x="478.12" y="206.37" width="1.8" height="7.31" fill="#469FFF"/><rect x="479.92" y="206.37" width="3.67" height="7.31" fill="#FF80FF"/>
<text class="yl" transform="translate(444.89 210.52) rotate(-43)" y="1.05">United Kingdom</text>
<rect x="448.29" y="213.68" width="19.77" height="7.31" fill="#FF7A48"/><rect x="468.06" y="213.68" width="2.72" height="7.31" fill="#F1B87F"/><rect x="470.78" y="213.68" width="3.64" height="7.31" fill="#FFD731"/><rect x="474.41" y="213.68" width="3.71" height="7.31" fill="#FFF0AE"/><rect x="478.12" y="213.68" width="1.8" height="7.31" fill="#469FFF"/><rect x="479.92" y="213.68" width="3.67" height="7.31" fill="#FF80FF"/>
<text class="yl" transform="translate(444.89 217.83) rotate(-43)" y="1.05">United States</text>
<rect x="448.29" y="220.99" width="13.34" height="7.31" fill="#FF7A48"/><rect x="461.63" y="220.99" width="6.42" height="7.31" fill="#F1B87F"/><rect x="468.06" y="220.99" width="3.53" height="7.31" fill="#FFD731"/><rect x="471.59" y="220.99" width="3.18" height="7.31" fill="#FFF0AE"/><rect x="474.77" y="220.99" width="2.47" height="7.31" fill="#45A548"/><rect x="477.24" y="220.99" width="1.76" height="7.31" fill="#98DC98"/><rect x="479" y="220.99" width="1.24" height="7.31" fill="#469FFF"/><rect x="480.24" y="220.99" width="3.35" height="7.31" fill="#FF80FF"/>
<text class="yl" transform="translate(444.89 225.14) rotate(-43)" y="1.05">All members</text>
<path d="M447.99 9V228.55" fill="none" stroke="#222" stroke-width="0.7"/><path d="M447.64 228.3H483.59" fill="none" stroke="#223" stroke-width="0.5"/>
<text class="xt" x="447.89" y="232.4">0</text><text class="xt" x="454.95" y="232.4">20</text><text class="xt" x="462.01" y="232.4">40</text><text class="xt" x="469.07" y="232.4">60</text><text class="xt" x="476.13" y="232.4">80</text><text class="xt" x="483.19" y="232.4">100</text>
<path d="M448.29 228.3v1.3M455.35 228.3v1.3M462.41 228.3v1.3M469.47 228.3v1.3M476.53 228.3v1.3M483.59 228.3v1.3M448.29 12.65h-1.3M448.29 19.96h-1.3M448.29 27.27h-1.3M448.29 34.58h-1.3M448.29 41.89h-1.3M448.29 49.2h-1.3M448.29 56.52h-1.3M448.29 63.82h-1.3M448.29 71.13h-1.3M448.29 78.44h-1.3M448.29 85.75h-1.3M448.29 93.06h-1.3M448.29 100.38h-1.3M448.29 107.68h-1.3M448.29 114.99h-1.3M448.29 122.3h-1.3M448.29 129.62h-1.3M448.29 136.93h-1.3M448.29 144.23h-1.3M448.29 151.54h-1.3M448.29 158.85h-1.3M448.29 166.16h-1.3M448.29 173.47h-1.3M448.29 180.78h-1.3M448.29 188.09h-1.3M448.29 195.41h-1.3M448.29 202.72h-1.3M448.29 210.02h-1.3M448.29 217.33h-1.3M448.29 224.64h-1.3" stroke="#222" stroke-width="0.25" opacity="0.6"/>
</g>
<g>
<text class="ti" x="526.11" y="6.5">2019</text>
<rect x="508.96" y="9" width="6" height="7.31" fill="#F1B87F"/><rect x="514.96" y="9" width="3.88" height="7.31" fill="#FFD731"/><rect x="518.84" y="9" width="18" height="7.31" fill="#FFF0AE"/><rect x="536.85" y="9" width="2.29" height="7.31" fill="#45A548"/><rect x="539.14" y="9" width="0.53" height="7.31" fill="#B5D8F8"/><rect x="539.67" y="9" width="0.88" height="7.31" fill="#BF7FCB"/><rect x="540.55" y="9" width="3.71" height="7.31" fill="#FF80FF"/>
<text class="yl" transform="translate(505.56 13.15) rotate(-43)" y="1.05">Australia</text>
<rect x="508.96" y="16.31" width="18.71" height="7.31" fill="#F1B87F"/><rect x="527.67" y="16.31" width="1.31" height="7.31" fill="#FFD731"/><rect x="528.98" y="16.31" width="12.11" height="7.31" fill="#98DC98"/><rect x="541.08" y="16.31" width="1.24" height="7.31" fill="#BF7FCB"/><rect x="542.32" y="16.31" width="1.94" height="7.31" fill="#FF80FF"/>
<text class="yl" transform="translate(505.56 20.46) rotate(-43)" y="1.05">Austria</text>
<rect x="508.96" y="23.62" width="7.77" height="7.31" fill="#FF7A48"/><rect x="516.73" y="23.62" width="7.77" height="7.31" fill="#F1B87F"/><rect x="524.49" y="23.62" width="3.53" height="7.31" fill="#FFD731"/><rect x="528.02" y="23.62" width="2.82" height="7.31" fill="#45A548"/><rect x="530.85" y="23.62" width="11.3" height="7.31" fill="#98DC98"/><rect x="542.14" y="23.62" width="0.88" height="7.31" fill="#469FFF"/><rect x="543.02" y="23.62" width="1.24" height="7.31" fill="#FF80FF"/>
<text class="yl" transform="translate(505.56 27.77) rotate(-43)" y="1.05">Belgium</text>
<rect x="508.96" y="30.93" width="13.06" height="7.31" fill="#FF7A48"/><rect x="522.02" y="30.93" width="6.95" height="7.31" fill="#F1B87F"/><rect x="528.98" y="30.93" width="2.58" height="7.31" fill="#FFD731"/><rect x="531.55" y="30.93" width="5.29" height="7.31" fill="#FFF0AE"/><rect x="536.85" y="30.93" width="2.68" height="7.31" fill="#45A548"/><rect x="539.53" y="30.93" width="2.26" height="7.31" fill="#469FFF"/><rect x="541.79" y="30.93" width="2.47" height="7.31" fill="#FF80FF"/>
<text class="yl" transform="translate(505.56 35.09) rotate(-43)" y="1.05">Canada</text>
<rect x="508.96" y="38.24" width="2.82" height="7.31" fill="#F1B87F"/><rect x="511.78" y="38.24" width="4.45" height="7.31" fill="#FFD731"/><rect x="516.23" y="38.24" width="28.03" height="7.31" fill="#98DC98"/>
<text class="yl" transform="translate(505.56 42.39) rotate(-43)" y="1.05">Czech Republic</text>
<rect x="508.96" y="45.55" width="6.35" height="7.31" fill="#FF7A48"/><rect x="515.31" y="45.55" width="6.71" height="7.31" fill="#F1B87F"/><rect x="522.02" y="45.55" width="2.47" height="7.31" fill="#FFD731"/><rect x="524.49" y="45.55" width="12.36" height="7.31" fill="#45A548"/><rect x="536.85" y="45.55" width="3.53" height="7.31" fill="#98DC98"/><rect x="540.38" y="45.55" width="3.88" height="7.31" fill="#FF80FF"/>
<text class="yl" transform="translate(505.56 49.7) rotate(-43)" y="1.05">Denmark</text>
<rect x="508.96" y="52.86" width="6" height="7.31" fill="#F1B87F"/><rect x="514.96" y="52.86" width="3.18" height="7.31" fill="#FFD731"/><rect x="518.14" y="52.86" width="8.82" height="7.31" fill="#45A548"/><rect x="526.96" y="52.86" width="11.65" height="7.31" fill="#98DC98"/><rect x="538.61" y="52.86" width="1.06" height="7.31" fill="#469FFF"/><rect x="539.67" y="52.86" width="4.59" height="7.31" fill="#FF80FF"/>
<text class="yl" transform="translate(505.56 57.02) rotate(-43)" y="1.05">Finland</text>
<rect x="508.96" y="60.17" width="24.22" height="7.31" fill="#FF7A48"/><rect x="533.18" y="60.17" width="2.61" height="7.31" fill="#F1B87F"/><rect x="535.79" y="60.17" width="1.06" height="7.31" fill="#FFF0AE"/><rect x="536.85" y="60.17" width="5.51" height="7.31" fill="#98DC98"/><rect x="542.35" y="60.17" width="1.91" height="7.31" fill="#FF80FF"/>
<text class="yl" transform="translate(505.56 64.32) rotate(-43)" y="1.05">France</text>
<rect x="508.96" y="67.48" width="14.12" height="7.31" fill="#FF7A48"/><rect x="523.08" y="67.48" width="2.82" height="7.31" fill="#F1B87F"/><rect x="525.9" y="67.48" width="3.88" height="7.31" fill="#FFD731"/><rect x="529.79" y="67.48" width="3" height="7.31" fill="#FFF0AE"/><rect x="532.79" y="67.48" width="1.24" height="7.31" fill="#45A548"/><rect x="534.02" y="67.48" width="5.65" height="7.31" fill="#98DC98"/><rect x="539.67" y="67.48" width="4.59" height="7.31" fill="#FF80FF"/>
<text class="yl" transform="translate(505.56 71.63) rotate(-43)" y="1.05">Germany</text>
<rect x="508.96" y="74.79" width="1.41" height="7.31" fill="#F1B87F"/><rect x="510.37" y="74.79" width="1.06" height="7.31" fill="#FFD731"/><rect x="511.43" y="74.79" width="31.77" height="7.31" fill="#98DC98"/><rect x="543.2" y="74.79" width="1.06" height="7.31" fill="#FF80FF"/>
<text class="yl" transform="translate(505.56 78.94) rotate(-43)" y="1.05">Greece</text>
<rect x="508.96" y="82.1" width="2.12" height="7.31" fill="#F1B87F"/><rect x="511.08" y="82.1" width="8.82" height="7.31" fill="#FFD731"/><rect x="519.9" y="82.1" width="24.36" height="7.31" fill="#98DC98"/>
<text class="yl" transform="translate(505.56 86.25) rotate(-43)" y="1.05">Hungary</text>
<rect x="508.96" y="89.41" width="3.53" height="7.31" fill="#F1B87F"/><rect x="512.49" y="89.41" width="13.94" height="7.31" fill="#45A548"/><rect x="526.43" y="89.41" width="10.77" height="7.31" fill="#469FFF"/><rect x="537.2" y="89.41" width="7.06" height="7.31" fill="#FF80FF"/>
<text class="yl" transform="translate(505.56 93.56) rotate(-43)" y="1.05">Iceland</text>
<rect x="508.96" y="96.72" width="9.88" height="7.31" fill="#FF7A48"/><rect x="518.84" y="96.72" width="2.47" height="7.31" fill="#F1B87F"/><rect x="521.32" y="96.72" width="3.18" height="7.31" fill="#FFD731"/><rect x="524.49" y="96.72" width="1.41" height="7.31" fill="#45A548"/><rect x="525.9" y="96.72" width="6.88" height="7.31" fill="#98DC98"/><rect x="532.79" y="96.72" width="4.41" height="7.31" fill="#469FFF"/><rect x="537.2" y="96.72" width="7.06" height="7.31" fill="#FF80FF"/>
<text class="yl" transform="translate(505.56 100.88) rotate(-43)" y="1.05">Ireland</text>
<rect x="508.96" y="104.03" width="8.47" height="7.31" fill="#FF7A48"/><rect x="517.43" y="104.03" width="5.15" height="7.31" fill="#F1B87F"/><rect x="522.59" y="104.03" width="2.61" height="7.31" fill="#FFD731"/><rect x="525.2" y="104.03" width="3.78" height="7.31" fill="#FFF0AE"/><rect x="528.98" y="104.03" width="10.7" height="7.31" fill="#98DC98"/><rect x="539.67" y="104.03" width="4.59" height="7.31" fill="#FF80FF"/>
<text class="yl" transform="translate(505.56 108.19) rotate(-43)" y="1.05">Italy</text>
<rect x="508.96" y="111.34" width="16.24" height="7.31" fill="#FF7A48"/><rect x="525.2" y="111.34" width="9.53" height="7.31" fill="#F1B87F"/><rect x="534.73" y="111.34" width="3.88" height="7.31" fill="#FFD731"/><rect x="538.61" y="111.34" width="1.24" height="7.31" fill="#45A548"/><rect x="539.85" y="111.34" width="1.24" height="7.31" fill="#469FFF"/><rect x="541.08" y="111.34" width="3.18" height="7.31" fill="#FF80FF"/>
<text class="yl" transform="translate(505.56 115.49) rotate(-43)" y="1.05">Japan</text>
<rect x="508.96" y="118.65" width="4.24" height="7.31" fill="#FF7A48"/><rect x="513.2" y="118.65" width="11.3" height="7.31" fill="#FFD731"/><rect x="524.49" y="118.65" width="6.35" height="7.31" fill="#45A548"/><rect x="530.85" y="118.65" width="1.24" height="7.31" fill="#98DC98"/><rect x="532.08" y="118.65" width="3.88" height="7.31" fill="#469FFF"/><rect x="535.96" y="118.65" width="2.65" height="7.31" fill="#B5D8F8"/><rect x="538.61" y="118.65" width="5.65" height="7.31" fill="#FF80FF"/>
<text class="yl" transform="translate(505.56 122.8) rotate(-43)" y="1.05">Luxembourg</text>
<rect x="508.96" y="125.96" width="7.77" height="7.31" fill="#FF7A48"/><rect x="516.73" y="125.96" width="6.35" height="7.31" fill="#F1B87F"/><rect x="523.08" y="125.96" width="2.82" height="7.31" fill="#FFD731"/><rect x="525.9" y="125.96" width="6" height="7.31" fill="#FFF0AE"/><rect x="531.91" y="125.96" width="4.94" height="7.31" fill="#45A548"/><rect x="536.85" y="125.96" width="2.82" height="7.31" fill="#98DC98"/><rect x="539.67" y="125.96" width="2.12" height="7.31" fill="#469FFF"/><rect x="541.79" y="125.96" width="2.47" height="7.31" fill="#FF80FF"/>
<text class="yl" transform="translate(505.56 130.11) rotate(-43)" y="1.05">Netherlands</text>
<rect x="508.96" y="133.27" width="6.88" height="7.31" fill="#F1B87F"/><rect x="515.84" y="133.27" width="6.74" height="7.31" fill="#FFD731"/><rect x="522.59" y="133.27" width="5.44" height="7.31" fill="#45A548"/><rect x="528.02" y="133.27" width="11.65" height="7.31" fill="#469FFF"/><rect x="539.67" y="133.27" width="4.59" height="7.31" fill="#FF80FF"/>
<text class="yl" transform="translate(505.56 137.42) rotate(-43)" y="1.05">New Zealand</text>
<rect x="508.96" y="140.58" width="6" height="7.31" fill="#FF7A48"/><rect x="514.96" y="140.58" width="8.12" height="7.31" fill="#F1B87F"/><rect x="523.08" y="140.58" width="3.35" height="7.31" fill="#FFD731"/><rect x="526.43" y="140.58" width="12.71" height="7.31" fill="#FFF0AE"/><rect x="539.14" y="140.58" width="2.65" height="7.31" fill="#45A548"/><rect x="541.79" y="140.58" width="2.47" height="7.31" fill="#FF80FF"/>
<text class="yl" transform="translate(505.56 144.73) rotate(-43)" y="1.05">Norway</text>
<rect x="508.96" y="147.89" width="2.82" height="7.31" fill="#F1B87F"/><rect x="511.78" y="147.89" width="4.94" height="7.31" fill="#FFD731"/><rect x="516.73" y="147.89" width="26.12" height="7.31" fill="#98DC98"/><rect x="542.85" y="147.89" width="1.41" height="7.31" fill="#FF80FF"/>
<text class="yl" transform="translate(505.56 152.04) rotate(-43)" y="1.05">Poland</text>
<rect x="508.96" y="155.2" width="5.29" height="7.31" fill="#F1B87F"/><rect x="514.25" y="155.2" width="3.53" height="7.31" fill="#FFD731"/><rect x="517.79" y="155.2" width="25.06" height="7.31" fill="#98DC98"/><rect x="542.85" y="155.2" width="1.41" height="7.31" fill="#FF80FF"/>
<text class="yl" transform="translate(505.56 159.35) rotate(-43)" y="1.05">Portugal</text>
<rect x="508.96" y="162.51" width="1.41" height="7.31" fill="#F1B87F"/><rect x="510.37" y="162.51" width="4.24" height="7.31" fill="#FFD731"/><rect x="514.61" y="162.51" width="25.42" height="7.31" fill="#98DC98"/><rect x="540.02" y="162.51" width="3.35" height="7.31" fill="#BF7FCB"/><rect x="543.38" y="162.51" width="0.88" height="7.31" fill="#FF80FF"/>
<text class="yl" transform="translate(505.56 166.66) rotate(-43)" y="1.05">Slovak Republic</text>
<rect x="508.96" y="169.82" width="2.82" height="7.31" fill="#F1B87F"/><rect x="511.78" y="169.82" width="3.53" height="7.31" fill="#FFD731"/><rect x="515.31" y="169.82" width="28.95" height="7.31" fill="#98DC98"/>
<text class="yl" transform="translate(505.56 173.97) rotate(-43)" y="1.05">Slovenia</text>
<rect x="508.96" y="177.13" width="10.45" height="7.31" fill="#F1B87F"/><rect x="519.41" y="177.13" width="11.44" height="7.31" fill="#FFD731"/><rect x="530.85" y="177.13" width="2.33" height="7.31" fill="#FFF0AE"/><rect x="533.18" y="177.13" width="1.76" height="7.31" fill="#45A548"/><rect x="534.94" y="177.13" width="3.85" height="7.31" fill="#469FFF"/><rect x="538.79" y="177.13" width="3.35" height="7.31" fill="#BF7FCB"/><rect x="542.14" y="177.13" width="2.12" height="7.31" fill="#FF80FF"/>
<text class="yl" transform="translate(505.56 181.28) rotate(-43)" y="1.05">South Korea</text>
<rect x="508.96" y="184.44" width="8.82" height="7.31" fill="#F1B87F"/><rect x="517.79" y="184.44" width="3.53" height="7.31" fill="#FFD731"/><rect x="521.32" y="184.44" width="21.04" height="7.31" fill="#98DC98"/><rect x="542.35" y="184.44" width="1.91" height="7.31" fill="#FF80FF"/>
<text class="yl" transform="translate(505.56 188.59) rotate(-43)" y="1.05">Spain</text>
<rect x="508.96" y="191.75" width="9.18" height="7.31" fill="#FF7A48"/><rect x="518.14" y="191.75" width="4.45" height="7.31" fill="#F1B87F"/><rect x="522.59" y="191.75" width="2.19" height="7.31" fill="#FFD731"/><rect x="524.77" y="191.75" width="3.25" height="7.31" fill="#FFF0AE"/><rect x="528.02" y="191.75" width="6" height="7.31" fill="#45A548"/><rect x="534.02" y="191.75" width="1.94" height="7.31" fill="#98DC98"/><rect x="535.96" y="191.75" width="3.18" height="7.31" fill="#469FFF"/><rect x="539.14" y="191.75" width="5.12" height="7.31" fill="#FF80FF"/>
<text class="yl" transform="translate(505.56 195.91) rotate(-43)" y="1.05">Sweden</text>
<rect x="508.96" y="199.06" width="7.27" height="7.31" fill="#FF7A48"/><rect x="516.23" y="199.06" width="8.54" height="7.31" fill="#F1B87F"/><rect x="524.77" y="199.06" width="5.37" height="7.31" fill="#FFD731"/><rect x="530.14" y="199.06" width="3.18" height="7.31" fill="#45A548"/><rect x="533.32" y="199.06" width="2.65" height="7.31" fill="#469FFF"/><rect x="535.96" y="199.06" width="1.24" height="7.31" fill="#B5D8F8"/><rect x="537.2" y="199.06" width="7.06" height="7.31" fill="#FF80FF"/>
<text class="yl" transform="translate(505.56 203.22) rotate(-43)" y="1.05">Switzerland</text>
<rect x="508.96" y="206.37" width="9.88" height="7.31" fill="#FF7A48"/><rect x="518.84" y="206.37" width="3.18" height="7.31" fill="#F1B87F"/><rect x="522.02" y="206.37" width="4.77" height="7.31" fill="#FFD731"/><rect x="526.79" y="206.37" width="5.37" height="7.31" fill="#FFF0AE"/><rect x="532.15" y="206.37" width="4.34" height="7.31" fill="#45A548"/><rect x="536.49" y="206.37" width="2.29" height="7.31" fill="#98DC98"/><rect x="538.79" y="206.37" width="2.29" height="7.31" fill="#469FFF"/><rect x="541.08" y="206.37" width="3.18" height="7.31" fill="#FF80FF"/>
<text class="yl" transform="translate(505.56 210.52) rotate(-43)" y="1.05">United Kingdom</text>
<rect x="508.96" y="213.68" width="16.8" height="7.31" fill="#FF7A48"/><rect x="525.76" y="213.68" width="3.21" height="7.31" fill="#F1B87F"/><rect x="528.98" y="213.68" width="2.93" height="7.31" fill="#FFD731"/><rect x="531.91" y="213.68" width="4.06" height="7.31" fill="#FFF0AE"/><rect x="535.96" y="213.68" width="0.88" height="7.31" fill="#469FFF"/><rect x="536.85" y="213.68" width="7.41" height="7.31" fill="#FF80FF"/>
<text class="yl" transform="translate(505.56 217.83) rotate(-43)" y="1.05">United States</text>
<rect x="508.96" y="220.99" width="13.06" height="7.31" fill="#FF7A48"/><rect x="522.02" y="220.99" width="3.88" height="7.31" fill="#F1B87F"/><rect x="525.9" y="220.99" width="3.88" height="7.31" fill="#FFD731"/><rect x="529.79" y="220.99" width="4.24" height="7.31" fill="#FFF0AE"/><rect x="534.02" y="220.99" width="1.94" height="7.31" fill="#45A548"/><rect x="535.96" y="220.99" width="2.29" height="7.31" fill="#98DC98"/><rect x="538.26" y="220.99" width="1.27" height="7.31" fill="#469FFF"/><rect x="539.53" y="220.99" width="4.73" height="7.31" fill="#FF80FF"/>
<text class="yl" transform="translate(505.56 225.14) rotate(-43)" y="1.05">All members</text>
<path d="M508.66 9V228.55" fill="none" stroke="#222" stroke-width="0.7"/><path d="M508.31 228.3H544.26" fill="none" stroke="#223" stroke-width="0.5"/>
<text class="xt" x="508.56" y="232.4">0</text><text class="xt" x="515.62" y="232.4">20</text><text class="xt" x="522.68" y="232.4">40</text><text class="xt" x="529.74" y="232.4">60</text><text class="xt" x="536.8" y="232.4">80</text><text class="xt" x="543.86" y="232.4">100</text>
<path d="M508.96 228.3v1.3M516.02 228.3v1.3M523.08 228.3v1.3M530.14 228.3v1.3M537.2 228.3v1.3M544.26 228.3v1.3M508.96 12.65h-1.3M508.96 19.96h-1.3M508.96 27.27h-1.3M508.96 34.58h-1.3M508.96 41.89h-1.3M508.96 49.2h-1.3M508.96 56.52h-1.3M508.96 63.82h-1.3M508.96 71.13h-1.3M508.96 78.44h-1.3M508.96 85.75h-1.3M508.96 93.06h-1.3M508.96 100.38h-1.3M508.96 107.68h-1.3M508.96 114.99h-1.3M508.96 122.3h-1.3M508.96 129.62h-1.3M508.96 136.93h-1.3M508.96 144.23h-1.3M508.96 151.54h-1.3M508.96 158.85h-1.3M508.96 166.16h-1.3M508.96 173.47h-1.3M508.96 180.78h-1.3M508.96 188.09h-1.3M508.96 195.41h-1.3M508.96 202.72h-1.3M508.96 210.02h-1.3M508.96 217.33h-1.3M508.96 224.64h-1.3" stroke="#222" stroke-width="0.25" opacity="0.6"/>
</g>
<text class="xl" x="271" y="247.1">Proportions (%)</text>
<rect x="69.1" y="263.8" width="40" height="6.3" fill="#FF7A48"/><text class="lg" x="115.9" y="268.5">Global Fund</text>
<rect x="159.8" y="263.8" width="40" height="6.3" fill="#F1B87F"/><text class="lg" x="206.6" y="268.5">World Bank</text>
<rect x="245.2" y="263.8" width="40" height="6.3" fill="#FFD731"/><text class="lg" x="292" y="268.5">WHO</text>
<rect x="324.1" y="263.8" width="40" height="6.3" fill="#FFF0AE"/><text class="lg" x="370.9" y="268.5">Gavi</text>
<rect x="411.3" y="263.8" width="40" height="6.3" fill="#45A548"/><text class="lg" x="458.1" y="268.5">UNFPA</text>
<rect x="69.1" y="274.5" width="40" height="6.3" fill="#98DC98"/><text class="lg" x="115.9" y="279.2">EU Institutions</text>
<rect x="159.8" y="274.5" width="40" height="6.3" fill="#469FFF"/><text class="lg" x="206.6" y="279.2">UNICEF</text>
<rect x="245.2" y="274.5" width="40" height="6.3" fill="#B5D8F8"/><text class="lg" x="292" y="279.2">UNAIDS</text>
<rect x="324.1" y="274.5" width="40" height="6.3" fill="#BF7FCB"/><text class="lg" x="370.9" y="279.2">Regional DB</text>
<rect x="411.3" y="274.5" width="40" height="6.3" fill="#FF80FF"/><text class="lg" x="458.1" y="279.2">Others</text>
</svg>
</body></html>
